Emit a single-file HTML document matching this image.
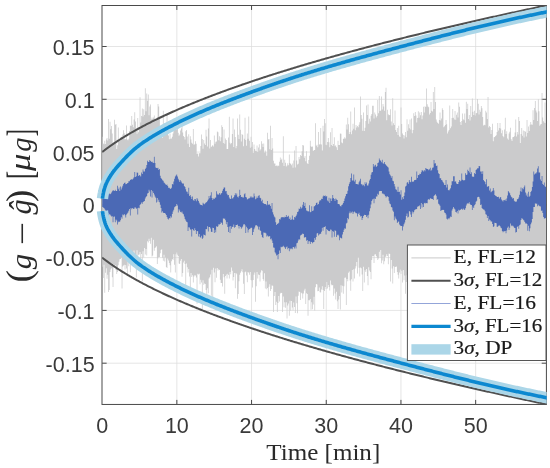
<!DOCTYPE html>
<html><head><meta charset="utf-8"><title>plot</title>
<style>html,body{margin:0;padding:0;background:#fff}svg{display:block}.tk{font-family:"Liberation Sans",sans-serif;font-size:21.5px;fill:#3a3a3a}.sf{font-family:"Liberation Serif",serif;fill:#2a2a2a}</style></head><body>
<svg width="550" height="468" viewBox="0 0 550 468">
<rect width="550" height="468" fill="#fff"/>
<defs><clipPath id="ax"><rect x="102.15" y="5.45" width="444.05" height="398.95"/></clipPath>
<clipPath id="axl"><rect x="80" y="5.05" width="466.70" height="399.85"/></clipPath></defs>
<g stroke="#dcdcdc" stroke-width="0.75" fill="none">
<line x1="176.85" y1="5.45" x2="176.85" y2="404.40"/>
<line x1="251.55" y1="5.45" x2="251.55" y2="404.40"/>
<line x1="326.25" y1="5.45" x2="326.25" y2="404.40"/>
<line x1="400.95" y1="5.45" x2="400.95" y2="404.40"/>
<line x1="475.65" y1="5.45" x2="475.65" y2="404.40"/>
<line x1="102.15" y1="363.19" x2="546.20" y2="363.19"/>
<line x1="102.15" y1="310.41" x2="546.20" y2="310.41"/>
<line x1="102.15" y1="257.63" x2="546.20" y2="257.63"/>
<line x1="102.15" y1="204.85" x2="546.20" y2="204.85"/>
<line x1="102.15" y1="152.07" x2="546.20" y2="152.07"/>
<line x1="102.15" y1="99.29" x2="546.20" y2="99.29"/>
<line x1="102.15" y1="46.51" x2="546.20" y2="46.51"/>
</g>
<g stroke="#4a4a4a" stroke-width="1" fill="none">
<rect x="102.00" y="5.50" width="444.40" height="398.95"/>
<path d="M176.85,404.40 v-4.5 M176.85,5.45 v4.5"/>
<path d="M251.55,404.40 v-4.5 M251.55,5.45 v4.5"/>
<path d="M326.25,404.40 v-4.5 M326.25,5.45 v4.5"/>
<path d="M400.95,404.40 v-4.5 M400.95,5.45 v4.5"/>
<path d="M475.65,404.40 v-4.5 M475.65,5.45 v4.5"/>
<path d="M102.15,363.19 h4.5"/>
<path d="M546.20,363.19 h-4.5"/>
<path d="M102.15,310.41 h4.5"/>
<path d="M546.20,310.41 h-4.5"/>
<path d="M102.15,257.63 h4.5"/>
<path d="M546.20,257.63 h-4.5"/>
<path d="M102.15,204.85 h4.5"/>
<path d="M546.20,204.85 h-4.5"/>
<path d="M102.15,152.07 h4.5"/>
<path d="M546.20,152.07 h-4.5"/>
<path d="M102.15,99.29 h4.5"/>
<path d="M546.20,99.29 h-4.5"/>
<path d="M102.15,46.51 h4.5"/>
<path d="M546.20,46.51 h-4.5"/>
</g>
<g clip-path="url(#ax)">
<polygon fill="#cbcbcc" points="102.15,136.7 102.90,136.7 102.90,143.5 103.65,143.5 103.65,144.3 104.40,144.3 104.40,140.7 105.15,140.7 105.15,144.0 105.90,144.0 105.90,139.6 106.65,139.6 106.65,138.1 107.40,138.1 107.40,140.6 108.15,140.6 108.15,119.1 108.90,119.1 108.90,138.8 109.65,138.8 109.65,121.7 110.40,121.7 110.40,129.2 111.15,129.2 111.15,126.1 111.90,126.1 111.90,133.6 112.65,133.6 112.65,142.7 113.40,142.7 113.40,142.0 114.15,142.0 114.15,119.8 114.90,119.8 114.90,124.8 115.65,124.8 115.65,123.9 116.40,123.9 116.40,149.1 117.15,149.1 117.15,145.2 117.90,145.2 117.90,127.5 118.65,127.5 118.65,140.5 119.40,140.5 119.40,141.1 120.15,141.1 120.15,137.6 120.90,137.6 120.90,136.8 121.65,136.8 121.65,137.1 122.40,137.1 122.40,134.6 123.15,134.6 123.15,130.3 123.90,130.3 123.90,133.2 124.65,133.2 124.65,139.5 125.40,139.5 125.40,138.9 126.15,138.9 126.15,125.6 126.90,125.6 126.90,139.6 127.65,139.6 127.65,140.2 128.40,140.2 128.40,138.7 129.15,138.7 129.15,131.0 129.90,131.0 129.90,125.5 130.65,125.5 130.65,125.9 131.40,125.9 131.40,116.0 132.15,116.0 132.15,124.7 132.90,124.7 132.90,127.3 133.65,127.3 133.65,119.6 134.40,119.6 134.40,112.2 135.15,112.2 135.15,121.6 135.90,121.6 135.90,128.4 136.65,128.4 136.65,133.7 137.40,133.7 137.40,118.0 138.15,118.0 138.15,132.3 138.90,132.3 138.90,128.1 139.65,128.1 139.65,97.2 140.40,97.2 140.40,122.6 141.15,122.6 141.15,116.1 141.90,116.1 141.90,108.4 142.65,108.4 142.65,116.4 143.40,116.4 143.40,109.2 144.15,109.2 144.15,114.9 144.90,114.9 144.90,88.3 145.65,88.3 145.65,111.3 146.40,111.3 146.40,93.5 147.15,93.5 147.15,100.7 147.90,100.7 147.90,94.4 148.65,94.4 148.65,115.2 149.40,115.2 149.40,106.5 150.15,106.5 150.15,104.6 150.90,104.6 150.90,119.4 151.65,119.4 151.65,117.6 152.40,117.6 152.40,119.0 153.15,119.0 153.15,117.4 153.90,117.4 153.90,115.6 154.65,115.6 154.65,119.8 155.40,119.8 155.40,119.8 156.15,119.8 156.15,118.7 156.90,118.7 156.90,116.9 157.65,116.9 157.65,103.9 158.40,103.9 158.40,106.6 159.15,106.6 159.15,117.8 159.90,117.8 159.90,127.4 160.65,127.4 160.65,126.2 161.40,126.2 161.40,127.2 162.15,127.2 162.15,137.7 162.90,137.7 162.90,110.7 163.65,110.7 163.65,131.5 164.40,131.5 164.40,127.3 165.15,127.3 165.15,127.1 165.90,127.1 165.90,132.5 166.65,132.5 166.65,114.0 167.40,114.0 167.40,132.1 168.15,132.1 168.15,135.6 168.90,135.6 168.90,139.3 169.65,139.3 169.65,133.6 170.40,133.6 170.40,138.7 171.15,138.7 171.15,138.4 171.90,138.4 171.90,136.8 172.65,136.8 172.65,133.5 173.40,133.5 173.40,130.4 174.15,130.4 174.15,119.7 174.90,119.7 174.90,129.2 175.65,129.2 175.65,129.9 176.40,129.9 176.40,129.4 177.15,129.4 177.15,123.3 177.90,123.3 177.90,132.7 178.65,132.7 178.65,135.7 179.40,135.7 179.40,134.4 180.15,134.4 180.15,130.4 180.90,130.4 180.90,128.5 181.65,128.5 181.65,125.3 182.40,125.3 182.40,132.4 183.15,132.4 183.15,135.9 183.90,135.9 183.90,136.9 184.65,136.9 184.65,139.4 185.40,139.4 185.40,131.2 186.15,131.2 186.15,129.9 186.90,129.9 186.90,136.5 187.65,136.5 187.65,143.7 188.40,143.7 188.40,134.3 189.15,134.3 189.15,147.0 189.90,147.0 189.90,136.2 190.65,136.2 190.65,139.4 191.40,139.4 191.40,142.7 192.15,142.7 192.15,143.7 192.90,143.7 192.90,128.9 193.65,128.9 193.65,144.8 194.40,144.8 194.40,144.3 195.15,144.3 195.15,141.2 195.90,141.2 195.90,143.7 196.65,143.7 196.65,153.7 197.40,153.7 197.40,153.5 198.15,153.5 198.15,156.4 198.90,156.4 198.90,153.2 199.65,153.2 199.65,153.2 200.40,153.2 200.40,146.0 201.15,146.0 201.15,134.5 201.90,134.5 201.90,139.0 202.65,139.0 202.65,148.7 203.40,148.7 203.40,140.1 204.15,140.1 204.15,143.6 204.90,143.6 204.90,145.0 205.65,145.0 205.65,129.8 206.40,129.8 206.40,136.5 207.15,136.5 207.15,146.4 207.90,146.4 207.90,128.6 208.65,128.6 208.65,118.6 209.40,118.6 209.40,148.5 210.15,148.5 210.15,139.9 210.90,139.9 210.90,147.0 211.65,147.0 211.65,146.1 212.40,146.1 212.40,145.1 213.15,145.1 213.15,146.4 213.90,146.4 213.90,135.4 214.65,135.4 214.65,143.8 215.40,143.8 215.40,141.8 216.15,141.8 216.15,141.5 216.90,141.5 216.90,131.5 217.65,131.5 217.65,132.3 218.40,132.3 218.40,140.3 219.15,140.3 219.15,136.2 219.90,136.2 219.90,141.3 220.65,141.3 220.65,137.2 221.40,137.2 221.40,125.3 222.15,125.3 222.15,127.0 222.90,127.0 222.90,143.0 223.65,143.0 223.65,129.4 224.40,129.4 224.40,143.8 225.15,143.8 225.15,138.4 225.90,138.4 225.90,139.9 226.65,139.9 226.65,149.0 227.40,149.0 227.40,148.9 228.15,148.9 228.15,137.4 228.90,137.4 228.90,116.7 229.65,116.7 229.65,142.8 230.40,142.8 230.40,144.2 231.15,144.2 231.15,143.0 231.90,143.0 231.90,134.0 232.65,134.0 232.65,118.5 233.40,118.5 233.40,147.1 234.15,147.1 234.15,129.4 234.90,129.4 234.90,136.9 235.65,136.9 235.65,148.3 236.40,148.3 236.40,145.9 237.15,145.9 237.15,118.5 237.90,118.5 237.90,134.8 238.65,134.8 238.65,138.9 239.40,138.9 239.40,114.5 240.15,114.5 240.15,129.7 240.90,129.7 240.90,141.4 241.65,141.4 241.65,134.1 242.40,134.1 242.40,134.9 243.15,134.9 243.15,146.2 243.90,146.2 243.90,138.8 244.65,138.8 244.65,117.8 245.40,117.8 245.40,140.0 246.15,140.0 246.15,145.7 246.90,145.7 246.90,133.6 247.65,133.6 247.65,138.8 248.40,138.8 248.40,116.5 249.15,116.5 249.15,140.8 249.90,140.8 249.90,147.7 250.65,147.7 250.65,136.8 251.40,136.8 251.40,146.8 252.15,146.8 252.15,141.9 252.90,141.9 252.90,153.0 253.65,153.0 253.65,144.4 254.40,144.4 254.40,149.1 255.15,149.1 255.15,150.8 255.90,150.8 255.90,151.2 256.65,151.2 256.65,145.6 257.40,145.6 257.40,151.9 258.15,151.9 258.15,147.4 258.90,147.4 258.90,144.2 259.65,144.2 259.65,150.5 260.40,150.5 260.40,149.2 261.15,149.2 261.15,141.2 261.90,141.2 261.90,143.7 262.65,143.7 262.65,147.0 263.40,147.0 263.40,143.6 264.15,143.6 264.15,152.6 264.90,152.6 264.90,150.4 265.65,150.4 265.65,152.2 266.40,152.2 266.40,155.8 267.15,155.8 267.15,132.7 267.90,132.7 267.90,139.6 268.65,139.6 268.65,138.9 269.40,138.9 269.40,149.3 270.15,149.3 270.15,125.7 270.90,125.7 270.90,150.1 271.65,150.1 271.65,137.9 272.40,137.9 272.40,148.5 273.15,148.5 273.15,160.8 273.90,160.8 273.90,163.4 274.65,163.4 274.65,163.4 275.40,163.4 275.40,166.0 276.15,166.0 276.15,165.4 276.90,165.4 276.90,166.3 277.65,166.3 277.65,165.2 278.40,165.2 278.40,166.1 279.15,166.1 279.15,161.7 279.90,161.7 279.90,157.5 280.65,157.5 280.65,160.0 281.40,160.0 281.40,158.7 282.15,158.7 282.15,162.8 282.90,162.8 282.90,136.3 283.65,136.3 283.65,166.1 284.40,166.1 284.40,159.7 285.15,159.7 285.15,162.8 285.90,162.8 285.90,166.4 286.65,166.4 286.65,165.4 287.40,165.4 287.40,163.3 288.15,163.3 288.15,165.3 288.90,165.3 288.90,154.5 289.65,154.5 289.65,163.1 290.40,163.1 290.40,164.1 291.15,164.1 291.15,165.3 291.90,165.3 291.90,163.5 292.65,163.5 292.65,167.8 293.40,167.8 293.40,160.5 294.15,160.5 294.15,150.5 294.90,150.5 294.90,167.5 295.65,167.5 295.65,145.9 296.40,145.9 296.40,160.6 297.15,160.6 297.15,164.4 297.90,164.4 297.90,163.7 298.65,163.7 298.65,157.0 299.40,157.0 299.40,159.3 300.15,159.3 300.15,155.0 300.90,155.0 300.90,156.1 301.65,156.1 301.65,151.3 302.40,151.3 302.40,145.0 303.15,145.0 303.15,145.5 303.90,145.5 303.90,157.8 304.65,157.8 304.65,155.9 305.40,155.9 305.40,161.2 306.15,161.2 306.15,151.2 306.90,151.2 306.90,163.2 307.65,163.2 307.65,163.9 308.40,163.9 308.40,159.9 309.15,159.9 309.15,155.7 309.90,155.7 309.90,140.8 310.65,140.8 310.65,146.2 311.40,146.2 311.40,147.0 312.15,147.0 312.15,146.4 312.90,146.4 312.90,151.0 313.65,151.0 313.65,150.0 314.40,150.0 314.40,150.0 315.15,150.0 315.15,123.2 315.90,123.2 315.90,145.8 316.65,145.8 316.65,144.8 317.40,144.8 317.40,147.3 318.15,147.3 318.15,131.9 318.90,131.9 318.90,144.4 319.65,144.4 319.65,144.3 320.40,144.3 320.40,128.0 321.15,128.0 321.15,144.4 321.90,144.4 321.90,150.5 322.65,150.5 322.65,125.7 323.40,125.7 323.40,131.5 324.15,131.5 324.15,119.1 324.90,119.1 324.90,123.3 325.65,123.3 325.65,144.8 326.40,144.8 326.40,145.2 327.15,145.2 327.15,142.1 327.90,142.1 327.90,137.9 328.65,137.9 328.65,142.3 329.40,142.3 329.40,147.2 330.15,147.2 330.15,132.2 330.90,132.2 330.90,145.0 331.65,145.0 331.65,127.9 332.40,127.9 332.40,145.9 333.15,145.9 333.15,143.9 333.90,143.9 333.90,137.3 334.65,137.3 334.65,146.3 335.40,146.3 335.40,145.3 336.15,145.3 336.15,147.3 336.90,147.3 336.90,149.9 337.65,149.9 337.65,140.8 338.40,140.8 338.40,145.0 339.15,145.0 339.15,145.0 339.90,145.0 339.90,133.4 340.65,133.4 340.65,133.8 341.40,133.8 341.40,142.5 342.15,142.5 342.15,143.2 342.90,143.2 342.90,138.8 343.65,138.8 343.65,138.7 344.40,138.7 344.40,137.3 345.15,137.3 345.15,138.4 345.90,138.4 345.90,124.5 346.65,124.5 346.65,129.5 347.40,129.5 347.40,117.7 348.15,117.7 348.15,124.2 348.90,124.2 348.90,134.0 349.65,134.0 349.65,132.0 350.40,132.0 350.40,111.5 351.15,111.5 351.15,134.3 351.90,134.3 351.90,130.6 352.65,130.6 352.65,123.7 353.40,123.7 353.40,128.8 354.15,128.8 354.15,107.4 354.90,107.4 354.90,130.2 355.65,130.2 355.65,125.1 356.40,125.1 356.40,127.5 357.15,127.5 357.15,126.0 357.90,126.0 357.90,127.3 358.65,127.3 358.65,124.8 359.40,124.8 359.40,122.2 360.15,122.2 360.15,96.6 360.90,96.6 360.90,115.0 361.65,115.0 361.65,118.7 362.40,118.7 362.40,130.7 363.15,130.7 363.15,112.4 363.90,112.4 363.90,130.9 364.65,130.9 364.65,127.7 365.40,127.7 365.40,121.1 366.15,121.1 366.15,105.6 366.90,105.6 366.90,114.9 367.65,114.9 367.65,104.5 368.40,104.5 368.40,123.7 369.15,123.7 369.15,118.8 369.90,118.8 369.90,121.6 370.65,121.6 370.65,115.8 371.40,115.8 371.40,113.9 372.15,113.9 372.15,105.8 372.90,105.8 372.90,105.8 373.65,105.8 373.65,118.5 374.40,118.5 374.40,112.4 375.15,112.4 375.15,114.6 375.90,114.6 375.90,117.5 376.65,117.5 376.65,115.9 377.40,115.9 377.40,100.1 378.15,100.1 378.15,113.2 378.90,113.2 378.90,96.0 379.65,96.0 379.65,110.9 380.40,110.9 380.40,110.6 381.15,110.6 381.15,96.5 381.90,96.5 381.90,109.5 382.65,109.5 382.65,103.9 383.40,103.9 383.40,106.5 384.15,106.5 384.15,110.7 384.90,110.7 384.90,92.1 385.65,92.1 385.65,87.7 386.40,87.7 386.40,120.2 387.15,120.2 387.15,109.8 387.90,109.8 387.90,114.2 388.65,114.2 388.65,115.3 389.40,115.3 389.40,114.9 390.15,114.9 390.15,109.2 390.90,109.2 390.90,121.6 391.65,121.6 391.65,125.6 392.40,125.6 392.40,98.3 393.15,98.3 393.15,123.2 393.90,123.2 393.90,125.0 394.65,125.0 394.65,110.5 395.40,110.5 395.40,129.9 396.15,129.9 396.15,132.1 396.90,132.1 396.90,127.9 397.65,127.9 397.65,135.0 398.40,135.0 398.40,125.8 399.15,125.8 399.15,136.6 399.90,136.6 399.90,136.9 400.65,136.9 400.65,107.5 401.40,107.5 401.40,124.0 402.15,124.0 402.15,133.5 402.90,133.5 402.90,134.9 403.65,134.9 403.65,138.5 404.40,138.5 404.40,135.4 405.15,135.4 405.15,131.9 405.90,131.9 405.90,137.3 406.65,137.3 406.65,119.2 407.40,119.2 407.40,130.8 408.15,130.8 408.15,124.2 408.90,124.2 408.90,128.2 409.65,128.2 409.65,119.4 410.40,119.4 410.40,129.4 411.15,129.4 411.15,118.5 411.90,118.5 411.90,133.3 412.65,133.3 412.65,130.1 413.40,130.1 413.40,113.3 414.15,113.3 414.15,115.9 414.90,115.9 414.90,112.0 415.65,112.0 415.65,115.5 416.40,115.5 416.40,122.6 417.15,122.6 417.15,117.9 417.90,117.9 417.90,111.2 418.65,111.2 418.65,117.8 419.40,117.8 419.40,112.6 420.15,112.6 420.15,115.3 420.90,115.3 420.90,111.9 421.65,111.9 421.65,119.3 422.40,119.3 422.40,115.5 423.15,115.5 423.15,106.7 423.90,106.7 423.90,112.5 424.65,112.5 424.65,106.3 425.40,106.3 425.40,107.1 426.15,107.1 426.15,88.6 426.90,88.6 426.90,104.3 427.65,104.3 427.65,106.6 428.40,106.6 428.40,107.2 429.15,107.2 429.15,114.6 429.90,114.6 429.90,113.1 430.65,113.1 430.65,102.0 431.40,102.0 431.40,110.7 432.15,110.7 432.15,111.5 432.90,111.5 432.90,92.0 433.65,92.0 433.65,109.1 434.40,109.1 434.40,87.0 435.15,87.0 435.15,102.0 435.90,102.0 435.90,119.5 436.65,119.5 436.65,121.8 437.40,121.8 437.40,123.1 438.15,123.1 438.15,123.8 438.90,123.8 438.90,120.1 439.65,120.1 439.65,112.4 440.40,112.4 440.40,120.4 441.15,120.4 441.15,118.5 441.90,118.5 441.90,108.2 442.65,108.2 442.65,110.0 443.40,110.0 443.40,127.3 444.15,127.3 444.15,126.2 444.90,126.2 444.90,124.9 445.65,124.9 445.65,120.0 446.40,120.0 446.40,124.3 447.15,124.3 447.15,133.4 447.90,133.4 447.90,131.4 448.65,131.4 448.65,130.1 449.40,130.1 449.40,105.6 450.15,105.6 450.15,128.2 450.90,128.2 450.90,126.5 451.65,126.5 451.65,118.0 452.40,118.0 452.40,109.1 453.15,109.1 453.15,117.7 453.90,117.7 453.90,119.5 454.65,119.5 454.65,111.1 455.40,111.1 455.40,119.7 456.15,119.7 456.15,114.8 456.90,114.8 456.90,112.6 457.65,112.6 457.65,117.5 458.40,117.5 458.40,102.5 459.15,102.5 459.15,106.8 459.90,106.8 459.90,121.9 460.65,121.9 460.65,125.0 461.40,125.0 461.40,121.1 462.15,121.1 462.15,113.6 462.90,113.6 462.90,119.2 463.65,119.2 463.65,120.3 464.40,120.3 464.40,113.5 465.15,113.5 465.15,122.7 465.90,122.7 465.90,101.8 466.65,101.8 466.65,108.9 467.40,108.9 467.40,103.7 468.15,103.7 468.15,119.1 468.90,119.1 468.90,114.9 469.65,114.9 469.65,120.4 470.40,120.4 470.40,106.1 471.15,106.1 471.15,116.9 471.90,116.9 471.90,98.5 472.65,98.5 472.65,111.8 473.40,111.8 473.40,114.9 474.15,114.9 474.15,110.7 474.90,110.7 474.90,115.6 475.65,115.6 475.65,113.2 476.40,113.2 476.40,113.1 477.15,113.1 477.15,99.0 477.90,99.0 477.90,103.8 478.65,103.8 478.65,114.4 479.40,114.4 479.40,109.8 480.15,109.8 480.15,111.7 480.90,111.7 480.90,106.0 481.65,106.0 481.65,108.2 482.40,108.2 482.40,116.9 483.15,116.9 483.15,125.6 483.90,125.6 483.90,124.8 484.65,124.8 484.65,125.2 485.40,125.2 485.40,110.7 486.15,110.7 486.15,112.6 486.90,112.6 486.90,119.0 487.65,119.0 487.65,97.1 488.40,97.1 488.40,127.6 489.15,127.6 489.15,126.0 489.90,126.0 489.90,127.0 490.65,127.0 490.65,133.9 491.40,133.9 491.40,129.9 492.15,129.9 492.15,123.8 492.90,123.8 492.90,141.2 493.65,141.2 493.65,137.3 494.40,137.3 494.40,136.9 495.15,136.9 495.15,136.1 495.90,136.1 495.90,135.2 496.65,135.2 496.65,131.9 497.40,131.9 497.40,122.9 498.15,122.9 498.15,130.5 498.90,130.5 498.90,128.1 499.65,128.1 499.65,123.1 500.40,123.1 500.40,128.4 501.15,128.4 501.15,133.2 501.90,133.2 501.90,130.2 502.65,130.2 502.65,135.9 503.40,135.9 503.40,137.2 504.15,137.2 504.15,129.5 504.90,129.5 504.90,117.7 505.65,117.7 505.65,134.1 506.40,134.1 506.40,131.2 507.15,131.2 507.15,138.4 507.90,138.4 507.90,139.8 508.65,139.8 508.65,133.5 509.40,133.5 509.40,131.7 510.15,131.7 510.15,127.8 510.90,127.8 510.90,139.2 511.65,139.2 511.65,140.9 512.40,140.9 512.40,137.3 513.15,137.3 513.15,137.1 513.90,137.1 513.90,136.3 514.65,136.3 514.65,132.4 515.40,132.4 515.40,119.5 516.15,119.5 516.15,136.4 516.90,136.4 516.90,132.0 517.65,132.0 517.65,134.4 518.40,134.4 518.40,117.0 519.15,117.0 519.15,120.9 519.90,120.9 519.90,142.9 520.65,142.9 520.65,133.9 521.40,133.9 521.40,128.0 522.15,128.0 522.15,135.8 522.90,135.8 522.90,130.4 523.65,130.4 523.65,137.5 524.40,137.5 524.40,131.0 525.15,131.0 525.15,131.8 525.90,131.8 525.90,136.5 526.65,136.5 526.65,119.9 527.40,119.9 527.40,133.1 528.15,133.1 528.15,126.6 528.90,126.6 528.90,131.0 529.65,131.0 529.65,124.7 530.40,124.7 530.40,122.0 531.15,122.0 531.15,124.5 531.90,124.5 531.90,124.8 532.65,124.8 532.65,110.2 533.40,110.2 533.40,120.1 534.15,120.1 534.15,108.0 534.90,108.0 534.90,101.1 535.65,101.1 535.65,110.6 536.40,110.6 536.40,112.5 537.15,112.5 537.15,121.0 537.90,121.0 537.90,99.2 538.65,99.2 538.65,111.2 539.40,111.2 539.40,125.7 540.15,125.7 540.15,124.5 540.90,124.5 540.90,124.0 541.65,124.0 541.65,93.0 542.40,93.0 542.40,117.6 543.15,117.6 543.15,121.3 543.90,121.3 543.90,122.8 544.65,122.8 544.65,102.4 545.40,102.4 545.40,123.0 546.15,123.0 546.15,125.9 546.20,125.9 546.20,277.2 546.15,277.2 546.15,270.2 545.40,270.2 545.40,262.2 544.65,262.2 544.65,265.1 543.90,265.1 543.90,271.5 543.15,271.5 543.15,268.5 542.40,268.5 542.40,264.7 541.65,264.7 541.65,291.4 540.90,291.4 540.90,270.1 540.15,270.1 540.15,269.2 539.40,269.2 539.40,274.1 538.65,274.1 538.65,272.8 537.90,272.8 537.90,269.8 537.15,269.8 537.15,295.5 536.40,295.5 536.40,267.7 535.65,267.7 535.65,269.4 534.90,269.4 534.90,275.0 534.15,275.0 534.15,272.3 533.40,272.3 533.40,268.4 532.65,268.4 532.65,277.4 531.90,277.4 531.90,280.0 531.15,280.0 531.15,273.9 530.40,273.9 530.40,275.5 529.65,275.5 529.65,282.5 528.90,282.5 528.90,280.9 528.15,280.9 528.15,287.5 527.40,287.5 527.40,293.4 526.65,293.4 526.65,312.2 525.90,312.2 525.90,291.0 525.15,291.0 525.15,287.4 524.40,287.4 524.40,303.9 523.65,303.9 523.65,300.2 522.90,300.2 522.90,301.2 522.15,301.2 522.15,297.8 521.40,297.8 521.40,294.9 520.65,294.9 520.65,286.2 519.90,286.2 519.90,297.0 519.15,297.0 519.15,292.4 518.40,292.4 518.40,297.1 517.65,297.1 517.65,287.9 516.90,287.9 516.90,283.9 516.15,283.9 516.15,286.1 515.40,286.1 515.40,308.4 514.65,308.4 514.65,290.9 513.90,290.9 513.90,290.5 513.15,290.5 513.15,292.5 512.40,292.5 512.40,289.3 511.65,289.3 511.65,299.2 510.90,299.2 510.90,312.5 510.15,312.5 510.15,287.8 509.40,287.8 509.40,305.7 508.65,305.7 508.65,309.1 507.90,309.1 507.90,291.6 507.15,291.6 507.15,296.6 506.40,296.6 506.40,293.9 505.65,293.9 505.65,295.3 504.90,295.3 504.90,297.7 504.15,297.7 504.15,292.5 503.40,292.5 503.40,295.8 502.65,295.8 502.65,294.4 501.90,294.4 501.90,305.4 501.15,305.4 501.15,296.6 500.40,296.6 500.40,290.8 499.65,290.8 499.65,297.6 498.90,297.6 498.90,286.4 498.15,286.4 498.15,289.6 497.40,289.6 497.40,308.8 496.65,308.8 496.65,311.2 495.90,311.2 495.90,287.1 495.15,287.1 495.15,285.4 494.40,285.4 494.40,286.5 493.65,286.5 493.65,285.6 492.90,285.6 492.90,288.9 492.15,288.9 492.15,285.0 491.40,285.0 491.40,291.7 490.65,291.7 490.65,297.6 489.90,297.6 489.90,276.3 489.15,276.3 489.15,273.6 488.40,273.6 488.40,279.2 487.65,279.2 487.65,279.3 486.90,279.3 486.90,293.7 486.15,293.7 486.15,282.7 485.40,282.7 485.40,273.9 484.65,273.9 484.65,274.4 483.90,274.4 483.90,274.1 483.15,274.1 483.15,274.1 482.40,274.1 482.40,267.0 481.65,267.0 481.65,294.5 480.90,294.5 480.90,274.2 480.15,274.2 480.15,277.0 479.40,277.0 479.40,289.6 478.65,289.6 478.65,264.7 477.90,264.7 477.90,268.2 477.15,268.2 477.15,266.0 476.40,266.0 476.40,268.9 475.65,268.9 475.65,272.3 474.90,272.3 474.90,268.7 474.15,268.7 474.15,266.8 473.40,266.8 473.40,273.1 472.65,273.1 472.65,291.0 471.90,291.0 471.90,265.7 471.15,265.7 471.15,272.5 470.40,272.5 470.40,263.0 469.65,263.0 469.65,265.8 468.90,265.8 468.90,265.5 468.15,265.5 468.15,281.9 467.40,281.9 467.40,263.6 466.65,263.6 466.65,263.8 465.90,263.8 465.90,273.2 465.15,273.2 465.15,288.0 464.40,288.0 464.40,268.7 463.65,268.7 463.65,277.8 462.90,277.8 462.90,266.9 462.15,266.9 462.15,273.8 461.40,273.8 461.40,267.1 460.65,267.1 460.65,265.4 459.90,265.4 459.90,266.2 459.15,266.2 459.15,270.4 458.40,270.4 458.40,265.8 457.65,265.8 457.65,266.4 456.90,266.4 456.90,264.5 456.15,264.5 456.15,283.6 455.40,283.6 455.40,266.8 454.65,266.8 454.65,287.0 453.90,287.0 453.90,271.6 453.15,271.6 453.15,269.2 452.40,269.2 452.40,277.9 451.65,277.9 451.65,287.2 450.90,287.2 450.90,276.5 450.15,276.5 450.15,276.2 449.40,276.2 449.40,287.0 448.65,287.0 448.65,282.5 447.90,282.5 447.90,286.3 447.15,286.3 447.15,284.4 446.40,284.4 446.40,287.8 445.65,287.8 445.65,300.5 444.90,300.5 444.90,278.0 444.15,278.0 444.15,276.9 443.40,276.9 443.40,274.6 442.65,274.6 442.65,274.5 441.90,274.5 441.90,271.2 441.15,271.2 441.15,274.0 440.40,274.0 440.40,273.1 439.65,273.1 439.65,269.6 438.90,269.6 438.90,296.7 438.15,296.7 438.15,270.6 437.40,270.6 437.40,266.9 436.65,266.9 436.65,275.5 435.90,275.5 435.90,271.8 435.15,271.8 435.15,293.9 434.40,293.9 434.40,273.8 433.65,273.8 433.65,267.9 432.90,267.9 432.90,264.0 432.15,264.0 432.15,261.2 431.40,261.2 431.40,265.2 430.65,265.2 430.65,257.4 429.90,257.4 429.90,279.9 429.15,279.9 429.15,276.6 428.40,276.6 428.40,269.9 427.65,269.9 427.65,269.1 426.90,269.1 426.90,263.0 426.15,263.0 426.15,279.5 425.40,279.5 425.40,277.9 424.65,277.9 424.65,263.9 423.90,263.9 423.90,257.4 423.15,257.4 423.15,259.6 422.40,259.6 422.40,286.9 421.65,286.9 421.65,260.4 420.90,260.4 420.90,261.1 420.15,261.1 420.15,265.7 419.40,265.7 419.40,292.5 418.65,292.5 418.65,265.7 417.90,265.7 417.90,293.2 417.15,293.2 417.15,270.6 416.40,270.6 416.40,268.0 415.65,268.0 415.65,271.1 414.90,271.1 414.90,270.6 414.15,270.6 414.15,271.6 413.40,271.6 413.40,259.9 412.65,259.9 412.65,267.4 411.90,267.4 411.90,275.5 411.15,275.5 411.15,268.4 410.40,268.4 410.40,266.4 409.65,266.4 409.65,275.4 408.90,275.4 408.90,274.9 408.15,274.9 408.15,278.9 407.40,278.9 407.40,275.3 406.65,275.3 406.65,282.1 405.90,282.1 405.90,293.8 405.15,293.8 405.15,275.5 404.40,275.5 404.40,280.3 403.65,280.3 403.65,270.0 402.90,270.0 402.90,282.5 402.15,282.5 402.15,270.7 401.40,270.7 401.40,273.9 400.65,273.9 400.65,269.5 399.90,269.5 399.90,272.5 399.15,272.5 399.15,278.5 398.40,278.5 398.40,274.7 397.65,274.7 397.65,272.0 396.90,272.0 396.90,266.6 396.15,266.6 396.15,267.0 395.40,267.0 395.40,266.8 394.65,266.8 394.65,273.0 393.90,273.0 393.90,266.2 393.15,266.2 393.15,283.6 392.40,283.6 392.40,268.4 391.65,268.4 391.65,260.0 390.90,260.0 390.90,281.6 390.15,281.6 390.15,254.1 389.40,254.1 389.40,253.6 388.65,253.6 388.65,264.3 387.90,264.3 387.90,256.1 387.15,256.1 387.15,254.3 386.40,254.3 386.40,256.3 385.65,256.3 385.65,256.9 384.90,256.9 384.90,261.2 384.15,261.2 384.15,264.2 383.40,264.2 383.40,254.8 382.65,254.8 382.65,260.4 381.90,260.4 381.90,263.2 381.15,263.2 381.15,249.9 380.40,249.9 380.40,257.5 379.65,257.5 379.65,251.8 378.90,251.8 378.90,258.6 378.15,258.6 378.15,260.0 377.40,260.0 377.40,257.7 376.65,257.7 376.65,255.9 375.90,255.9 375.90,254.2 375.15,254.2 375.15,254.4 374.40,254.4 374.40,263.0 373.65,263.0 373.65,255.9 372.90,255.9 372.90,256.2 372.15,256.2 372.15,260.1 371.40,260.1 371.40,279.2 370.65,279.2 370.65,272.1 369.90,272.1 369.90,270.6 369.15,270.6 369.15,267.3 368.40,267.3 368.40,285.2 367.65,285.2 367.65,275.9 366.90,275.9 366.90,269.1 366.15,269.1 366.15,272.0 365.40,272.0 365.40,270.3 364.65,270.3 364.65,282.5 363.90,282.5 363.90,266.8 363.15,266.8 363.15,290.9 362.40,290.9 362.40,274.4 361.65,274.4 361.65,268.3 360.90,268.3 360.90,267.5 360.15,267.5 360.15,276.5 359.40,276.5 359.40,267.8 358.65,267.8 358.65,257.6 357.90,257.6 357.90,273.5 357.15,273.5 357.15,261.9 356.40,261.9 356.40,266.3 355.65,266.3 355.65,268.4 354.90,268.4 354.90,278.4 354.15,278.4 354.15,269.3 353.40,269.3 353.40,281.5 352.65,281.5 352.65,269.9 351.90,269.9 351.90,279.3 351.15,279.3 351.15,290.8 350.40,290.8 350.40,280.4 349.65,280.4 349.65,271.6 348.90,271.6 348.90,272.7 348.15,272.7 348.15,281.3 347.40,281.3 347.40,279.0 346.65,279.0 346.65,305.0 345.90,305.0 345.90,277.6 345.15,277.6 345.15,277.7 344.40,277.7 344.40,286.3 343.65,286.3 343.65,293.8 342.90,293.8 342.90,285.7 342.15,285.7 342.15,292.4 341.40,292.4 341.40,285.3 340.65,285.3 340.65,309.5 339.90,309.5 339.90,296.0 339.15,296.0 339.15,299.4 338.40,299.4 338.40,308.9 337.65,308.9 337.65,301.3 336.90,301.3 336.90,291.8 336.15,291.8 336.15,299.4 335.40,299.4 335.40,293.5 334.65,293.5 334.65,288.4 333.90,288.4 333.90,295.7 333.15,295.7 333.15,285.0 332.40,285.0 332.40,285.6 331.65,285.6 331.65,284.5 330.90,284.5 330.90,280.4 330.15,280.4 330.15,290.6 329.40,290.6 329.40,287.1 328.65,287.1 328.65,285.0 327.90,285.0 327.90,288.4 327.15,288.4 327.15,281.9 326.40,281.9 326.40,288.9 325.65,288.9 325.65,286.9 324.90,286.9 324.90,290.9 324.15,290.9 324.15,308.9 323.40,308.9 323.40,290.1 322.65,290.1 322.65,286.2 321.90,286.2 321.90,289.4 321.15,289.4 321.15,292.6 320.40,292.6 320.40,292.3 319.65,292.3 319.65,287.5 318.90,287.5 318.90,290.9 318.15,290.9 318.15,291.2 317.40,291.2 317.40,284.5 316.65,284.5 316.65,283.9 315.90,283.9 315.90,287.2 315.15,287.2 315.15,310.4 314.40,310.4 314.40,296.8 313.65,296.8 313.65,304.4 312.90,304.4 312.90,309.2 312.15,309.2 312.15,302.3 311.40,302.3 311.40,309.8 310.65,309.8 310.65,299.1 309.90,299.1 309.90,300.3 309.15,300.3 309.15,300.2 308.40,300.2 308.40,315.8 307.65,315.8 307.65,294.1 306.90,294.1 306.90,293.3 306.15,293.3 306.15,303.9 305.40,303.9 305.40,288.8 304.65,288.8 304.65,290.5 303.90,290.5 303.90,293.6 303.15,293.6 303.15,298.5 302.40,298.5 302.40,293.5 301.65,293.5 301.65,292.7 300.90,292.7 300.90,299.9 300.15,299.9 300.15,292.1 299.40,292.1 299.40,291.4 298.65,291.4 298.65,295.8 297.90,295.8 297.90,313.2 297.15,313.2 297.15,303.2 296.40,303.2 296.40,296.4 295.65,296.4 295.65,312.9 294.90,312.9 294.90,307.0 294.15,307.0 294.15,302.6 293.40,302.6 293.40,310.6 292.65,310.6 292.65,307.4 291.90,307.4 291.90,301.1 291.15,301.1 291.15,310.7 290.40,310.7 290.40,300.8 289.65,300.8 289.65,315.8 288.90,315.8 288.90,303.4 288.15,303.4 288.15,305.6 287.40,305.6 287.40,318.4 286.65,318.4 286.65,302.3 285.90,302.3 285.90,307.8 285.15,307.8 285.15,302.2 284.40,302.2 284.40,307.2 283.65,307.2 283.65,296.5 282.90,296.5 282.90,312.0 282.15,312.0 282.15,292.9 281.40,292.9 281.40,292.7 280.65,292.7 280.65,293.5 279.90,293.5 279.90,301.4 279.15,301.4 279.15,296.0 278.40,296.0 278.40,302.9 277.65,302.9 277.65,312.0 276.90,312.0 276.90,301.7 276.15,301.7 276.15,304.9 275.40,304.9 275.40,292.1 274.65,292.1 274.65,296.0 273.90,296.0 273.90,312.0 273.15,312.0 273.15,285.8 272.40,285.8 272.40,285.6 271.65,285.6 271.65,288.9 270.90,288.9 270.90,291.0 270.15,291.0 270.15,284.3 269.40,284.3 269.40,286.7 268.65,286.7 268.65,296.5 267.90,296.5 267.90,288.1 267.15,288.1 267.15,289.2 266.40,289.2 266.40,281.6 265.65,281.6 265.65,288.6 264.90,288.6 264.90,273.2 264.15,273.2 264.15,280.8 263.40,280.8 263.40,279.1 262.65,279.1 262.65,270.7 261.90,270.7 261.90,270.3 261.15,270.3 261.15,272.6 260.40,272.6 260.40,281.5 259.65,281.5 259.65,275.0 258.90,275.0 258.90,274.5 258.15,274.5 258.15,278.6 257.40,278.6 257.40,272.0 256.65,272.0 256.65,286.3 255.90,286.3 255.90,301.7 255.15,301.7 255.15,272.5 254.40,272.5 254.40,274.8 253.65,274.8 253.65,280.0 252.90,280.0 252.90,287.5 252.15,287.5 252.15,280.5 251.40,280.5 251.40,280.1 250.65,280.1 250.65,272.1 249.90,272.1 249.90,274.7 249.15,274.7 249.15,272.7 248.40,272.7 248.40,271.9 247.65,271.9 247.65,282.2 246.90,282.2 246.90,275.6 246.15,275.6 246.15,271.6 245.40,271.6 245.40,272.2 244.65,272.2 244.65,294.0 243.90,294.0 243.90,283.8 243.15,283.8 243.15,272.2 242.40,272.2 242.40,269.3 241.65,269.3 241.65,271.2 240.90,271.2 240.90,272.7 240.15,272.7 240.15,274.7 239.40,274.7 239.40,281.2 238.65,281.2 238.65,294.0 237.90,294.0 237.90,298.8 237.15,298.8 237.15,274.3 236.40,274.3 236.40,272.9 235.65,272.9 235.65,288.2 234.90,288.2 234.90,273.1 234.15,273.1 234.15,277.0 233.40,277.0 233.40,280.5 232.65,280.5 232.65,270.8 231.90,270.8 231.90,267.5 231.15,267.5 231.15,274.3 230.40,274.3 230.40,272.0 229.65,272.0 229.65,278.6 228.90,278.6 228.90,275.1 228.15,275.1 228.15,273.7 227.40,273.7 227.40,278.5 226.65,278.5 226.65,274.6 225.90,274.6 225.90,275.9 225.15,275.9 225.15,293.7 224.40,293.7 224.40,277.2 223.65,277.2 223.65,273.9 222.90,273.9 222.90,286.5 222.15,286.5 222.15,283.0 221.40,283.0 221.40,283.0 220.65,283.0 220.65,279.8 219.90,279.8 219.90,270.1 219.15,270.1 219.15,269.2 218.40,269.2 218.40,270.4 217.65,270.4 217.65,268.0 216.90,268.0 216.90,277.8 216.15,277.8 216.15,268.4 215.40,268.4 215.40,282.2 214.65,282.2 214.65,272.4 213.90,272.4 213.90,267.7 213.15,267.7 213.15,298.1 212.40,298.1 212.40,269.8 211.65,269.8 211.65,295.8 210.90,295.8 210.90,274.5 210.15,274.5 210.15,277.3 209.40,277.3 209.40,278.6 208.65,278.6 208.65,293.2 207.90,293.2 207.90,288.3 207.15,288.3 207.15,295.5 206.40,295.5 206.40,290.0 205.65,290.0 205.65,284.0 204.90,284.0 204.90,283.4 204.15,283.4 204.15,284.7 203.40,284.7 203.40,280.2 202.65,280.2 202.65,309.2 201.90,309.2 201.90,282.5 201.15,282.5 201.15,279.7 200.40,279.7 200.40,284.3 199.65,284.3 199.65,273.8 198.90,273.8 198.90,274.4 198.15,274.4 198.15,273.8 197.40,273.8 197.40,303.7 196.65,303.7 196.65,277.6 195.90,277.6 195.90,275.5 195.15,275.5 195.15,275.3 194.40,275.3 194.40,276.5 193.65,276.5 193.65,282.4 192.90,282.4 192.90,275.2 192.15,275.2 192.15,277.0 191.40,277.0 191.40,273.0 190.65,273.0 190.65,298.2 189.90,298.2 189.90,276.6 189.15,276.6 189.15,269.0 188.40,269.0 188.40,272.4 187.65,272.4 187.65,267.3 186.90,267.3 186.90,263.5 186.15,263.5 186.15,287.3 185.40,287.3 185.40,264.1 184.65,264.1 184.65,260.8 183.90,260.8 183.90,262.6 183.15,262.6 183.15,273.0 182.40,273.0 182.40,276.8 181.65,276.8 181.65,259.1 180.90,259.1 180.90,260.7 180.15,260.7 180.15,264.0 179.40,264.0 179.40,263.6 178.65,263.6 178.65,256.0 177.90,256.0 177.90,254.8 177.15,254.8 177.15,252.5 176.40,252.5 176.40,254.3 175.65,254.3 175.65,272.4 174.90,272.4 174.90,264.7 174.15,264.7 174.15,254.3 173.40,254.3 173.40,260.0 172.65,260.0 172.65,259.0 171.90,259.0 171.90,261.2 171.15,261.2 171.15,272.6 170.40,272.6 170.40,265.3 169.65,265.3 169.65,263.1 168.90,263.1 168.90,260.6 168.15,260.6 168.15,258.6 167.40,258.6 167.40,268.0 166.65,268.0 166.65,266.9 165.90,266.9 165.90,257.5 165.15,257.5 165.15,261.6 164.40,261.6 164.40,254.8 163.65,254.8 163.65,260.7 162.90,260.7 162.90,257.8 162.15,257.8 162.15,249.2 161.40,249.2 161.40,249.9 160.65,249.9 160.65,253.2 159.90,253.2 159.90,257.1 159.15,257.1 159.15,256.9 158.40,256.9 158.40,258.3 157.65,258.3 157.65,263.9 156.90,263.9 156.90,246.3 156.15,246.3 156.15,247.3 155.40,247.3 155.40,248.0 154.65,248.0 154.65,250.8 153.90,250.8 153.90,239.8 153.15,239.8 153.15,255.6 152.40,255.6 152.40,256.6 151.65,256.6 151.65,237.8 150.90,237.8 150.90,243.8 150.15,243.8 150.15,241.0 149.40,241.0 149.40,238.7 148.65,238.7 148.65,242.4 147.90,242.4 147.90,241.2 147.15,241.2 147.15,255.4 146.40,255.4 146.40,249.1 145.65,249.1 145.65,254.5 144.90,254.5 144.90,248.1 144.15,248.1 144.15,257.4 143.40,257.4 143.40,251.3 142.65,251.3 142.65,281.2 141.90,281.2 141.90,254.0 141.15,254.0 141.15,263.6 140.40,263.6 140.40,251.9 139.65,251.9 139.65,254.4 138.90,254.4 138.90,254.8 138.15,254.8 138.15,257.3 137.40,257.3 137.40,250.2 136.65,250.2 136.65,277.5 135.90,277.5 135.90,257.2 135.15,257.2 135.15,262.5 134.40,262.5 134.40,250.4 133.65,250.4 133.65,257.8 132.90,257.8 132.90,257.3 132.15,257.3 132.15,252.1 131.40,252.1 131.40,255.3 130.65,255.3 130.65,272.2 129.90,272.2 129.90,258.1 129.15,258.1 129.15,266.2 128.40,266.2 128.40,258.0 127.65,258.0 127.65,274.2 126.90,274.2 126.90,268.5 126.15,268.5 126.15,264.9 125.40,264.9 125.40,269.6 124.65,269.6 124.65,264.8 123.90,264.8 123.90,265.4 123.15,265.4 123.15,266.4 122.40,266.4 122.40,288.4 121.65,288.4 121.65,257.7 120.90,257.7 120.90,259.1 120.15,259.1 120.15,259.2 119.40,259.2 119.40,261.8 118.65,261.8 118.65,265.3 117.90,265.3 117.90,271.9 117.15,271.9 117.15,273.9 116.40,273.9 116.40,270.1 115.65,270.1 115.65,265.3 114.90,265.3 114.90,266.6 114.15,266.6 114.15,264.2 113.40,264.2 113.40,287.1 112.65,287.1 112.65,277.3 111.90,277.3 111.90,268.2 111.15,268.2 111.15,269.4 110.40,269.4 110.40,271.9 109.65,271.9 109.65,290.0 108.90,290.0 108.90,292.0 108.15,292.0 108.15,274.8 107.40,274.8 107.40,278.7 106.65,278.7 106.65,268.2 105.90,268.2 105.90,272.7 105.15,272.7 105.15,292.7 104.40,292.7 104.40,264.8 103.65,264.8 103.65,278.1 102.90,278.1 102.90,266.8 102.15,266.8"/>
<path d="M102.15,152.07 L102.23,152.01 L102.30,151.95 L102.38,151.89 L102.45,151.83 L102.53,151.77 L102.60,151.72 L102.68,151.66 L102.75,151.60 L102.83,151.54 L102.90,151.48 L102.98,151.42 L103.05,151.36 L103.13,151.31 L103.20,151.25 L103.28,151.19 L103.35,151.13 L103.43,151.07 L103.50,151.01 L103.58,150.96 L103.65,150.90 L103.73,150.84 L103.80,150.78 L103.88,150.73 L103.95,150.67 L104.03,150.61 L104.10,150.55 L104.18,150.50 L104.25,150.44 L104.33,150.38 L104.40,150.32 L104.48,150.27 L104.55,150.21 L104.63,150.15 L104.70,150.09 L104.78,150.04 L104.85,149.98 L104.93,149.92 L105.00,149.87 L105.08,149.81 L105.15,149.75 L105.23,149.70 L105.30,149.64 L105.38,149.58 L105.45,149.53 L105.53,149.47 L105.60,149.41 L105.68,149.36 L105.75,149.30 L105.83,149.24 L105.90,149.19 L105.98,149.13 L106.05,149.08 L106.13,149.02 L106.20,148.96 L106.28,148.91 L106.35,148.85 L106.43,148.80 L106.50,148.74 L106.58,148.69 L106.65,148.63 L106.73,148.57 L106.80,148.52 L106.88,148.46 L106.95,148.41 L107.03,148.35 L107.10,148.30 L107.18,148.24 L107.26,148.19 L107.33,148.13 L107.41,148.08 L107.48,148.02 L107.56,147.97 L107.63,147.91 L107.71,147.86 L107.78,147.80 L107.86,147.75 L107.93,147.69 L108.01,147.64 L108.08,147.58 L108.16,147.53 L108.23,147.47 L108.31,147.42 L108.38,147.37 L108.46,147.31 L108.53,147.26 L108.61,147.20 L108.68,147.15 L108.76,147.10 L108.83,147.04 L108.91,146.99 L108.98,146.93 L109.06,146.88 L109.13,146.83 L109.21,146.77 L109.28,146.72 L109.36,146.66 L109.43,146.61 L109.51,146.56 L109.58,146.50 L109.66,146.45 L109.73,146.40 L109.81,146.34 L109.88,146.29 L109.96,146.24 L110.03,146.18 L110.11,146.13 L110.18,146.08 L110.26,146.02 L110.33,145.97 L110.41,145.92 L110.48,145.86 L110.56,145.81 L110.63,145.76 L110.71,145.71 L110.78,145.65 L110.86,145.60 L110.93,145.55 L111.01,145.49 L111.08,145.44 L111.16,145.39 L111.23,145.34 L111.31,145.28 L111.38,145.23 L111.46,145.18 L111.53,145.13 L111.61,145.07 L111.68,145.02 L111.76,144.97 L111.83,144.92 L111.91,144.87 L111.98,144.81 L112.06,144.76 L112.14,144.71 L112.21,144.66 L112.29,144.61 L112.36,144.55 L112.44,144.50 L112.51,144.45 L112.59,144.40 L112.66,144.35 L112.74,144.30 L112.81,144.24 L112.89,144.19 L112.96,144.14 L113.04,144.09 L113.11,144.04 L113.19,143.99 L113.26,143.94 L113.34,143.88 L113.41,143.83 L113.49,143.78 L113.56,143.73 L113.64,143.68 L113.71,143.63 L113.79,143.58 L113.86,143.53 L113.94,143.48 L114.01,143.42 L114.09,143.37 L114.16,143.32 L114.24,143.27 L114.31,143.22 L114.39,143.17 L114.46,143.12 L114.54,143.07 L114.61,143.02 L114.69,142.97 L114.76,142.92 L114.84,142.87 L114.91,142.82 L114.99,142.77 L115.06,142.72 L115.14,142.67 L115.21,142.62 L115.29,142.57 L115.36,142.52 L115.44,142.47 L115.51,142.42 L115.59,142.37 L115.66,142.32 L115.74,142.27 L115.81,142.22 L115.89,142.17 L115.96,142.12 L116.04,142.07 L116.11,142.02 L116.19,141.97 L116.26,141.92 L116.34,141.87 L116.41,141.82 L116.49,141.77 L116.56,141.72 L116.64,141.67 L116.71,141.62 L116.79,141.57 L116.86,141.52 L116.94,141.47 L117.01,141.42 L117.09,141.37 L118.17,140.67 L119.25,139.97 L120.33,139.28 L121.41,138.60 L122.50,137.92 L123.58,137.25 L124.66,136.59 L125.74,135.94 L126.82,135.29 L127.90,134.64 L128.98,134.00 L130.06,133.37 L131.14,132.75 L132.23,132.12 L133.31,131.51 L134.39,130.90 L135.47,130.29 L136.55,129.69 L137.63,129.09 L138.71,128.50 L139.79,127.92 L140.87,127.33 L141.95,126.75 L143.04,126.18 L144.12,125.61 L145.20,125.04 L146.28,124.48 L147.36,123.92 L148.44,123.37 L149.52,122.82 L150.60,122.27 L151.68,121.73 L152.77,121.19 L153.85,120.66 L154.93,120.12 L156.01,119.59 L157.09,119.07 L158.17,118.54 L159.25,118.02 L160.33,117.51 L161.41,116.99 L162.50,116.48 L163.58,115.98 L164.66,115.47 L165.74,114.97 L166.82,114.47 L167.90,113.97 L168.98,113.48 L170.06,112.99 L171.14,112.50 L172.23,112.01 L173.31,111.53 L174.39,111.05 L175.47,110.57 L176.55,110.10 L177.63,109.62 L178.71,109.15 L179.79,108.68 L180.87,108.21 L181.95,107.75 L183.04,107.29 L184.12,106.83 L185.20,106.37 L186.28,105.91 L187.36,105.46 L188.44,105.01 L189.52,104.56 L190.60,104.11 L191.68,103.67 L192.77,103.22 L193.85,102.78 L194.93,102.34 L196.01,101.90 L197.09,101.47 L198.17,101.03 L199.25,100.60 L200.33,100.17 L201.41,99.74 L202.50,99.31 L203.58,98.89 L204.66,98.46 L205.74,98.04 L206.82,97.62 L207.90,97.20 L208.98,96.79 L210.06,96.37 L211.14,95.96 L212.23,95.54 L213.31,95.13 L214.39,94.72 L215.47,94.32 L216.55,93.91 L217.63,93.50 L218.71,93.10 L219.79,92.70 L220.87,92.30 L221.95,91.90 L223.04,91.50 L224.12,91.11 L225.20,90.71 L226.28,90.32 L227.36,89.93 L228.44,89.53 L229.52,89.14 L230.60,88.76 L231.68,88.37 L232.77,87.98 L233.85,87.60 L234.93,87.22 L236.01,86.83 L237.09,86.45 L238.17,86.07 L239.25,85.70 L240.33,85.32 L241.41,84.94 L242.50,84.57 L243.58,84.20 L244.66,83.82 L245.74,83.45 L246.82,83.08 L247.90,82.71 L248.98,82.35 L250.06,81.98 L251.14,81.61 L252.23,81.25 L253.31,80.88 L254.39,80.52 L255.47,80.16 L256.55,79.80 L257.63,79.44 L258.71,79.08 L259.79,78.73 L260.87,78.37 L261.95,78.01 L263.04,77.66 L264.12,77.31 L265.20,76.95 L266.28,76.60 L267.36,76.25 L268.44,75.90 L269.52,75.56 L270.60,75.21 L271.68,74.86 L272.77,74.52 L273.85,74.17 L274.93,73.83 L276.01,73.48 L277.09,73.14 L278.17,72.80 L279.25,72.46 L280.33,72.12 L281.41,71.78 L282.50,71.44 L283.58,71.11 L284.66,70.77 L285.74,70.44 L286.82,70.10 L287.90,69.77 L288.98,69.44 L290.06,69.10 L291.14,68.77 L292.22,68.44 L293.31,68.11 L294.39,67.78 L295.47,67.46 L296.55,67.13 L297.63,66.80 L298.71,66.48 L299.79,66.15 L300.87,65.83 L301.95,65.51 L303.04,65.18 L304.12,64.86 L305.20,64.54 L306.28,64.22 L307.36,63.90 L308.44,63.58 L309.52,63.26 L310.60,62.95 L311.68,62.63 L312.77,62.31 L313.85,62.00 L314.93,61.68 L316.01,61.37 L317.09,61.06 L318.17,60.74 L319.25,60.43 L320.33,60.12 L321.41,59.81 L322.50,59.50 L323.58,59.19 L324.66,58.88 L325.74,58.57 L326.82,58.27 L327.90,57.96 L328.98,57.66 L330.06,57.35 L331.14,57.05 L332.22,56.74 L333.31,56.44 L334.39,56.13 L335.47,55.83 L336.55,55.53 L337.63,55.23 L338.71,54.93 L339.79,54.63 L340.87,54.33 L341.95,54.03 L343.04,53.73 L344.12,53.44 L345.20,53.14 L346.28,52.84 L347.36,52.55 L348.44,52.25 L349.52,51.96 L350.60,51.66 L351.68,51.37 L352.77,51.08 L353.85,50.79 L354.93,50.49 L356.01,50.20 L357.09,49.91 L358.17,49.62 L359.25,49.33 L360.33,49.04 L361.41,48.75 L362.50,48.47 L363.58,48.18 L364.66,47.89 L365.74,47.61 L366.82,47.32 L367.90,47.03 L368.98,46.75 L370.06,46.47 L371.14,46.18 L372.22,45.90 L373.31,45.62 L374.39,45.33 L375.47,45.05 L376.55,44.77 L377.63,44.49 L378.71,44.21 L379.79,43.93 L380.87,43.65 L381.95,43.37 L383.04,43.09 L384.12,42.81 L385.20,42.54 L386.28,42.26 L387.36,41.98 L388.44,41.71 L389.52,41.43 L390.60,41.16 L391.68,40.88 L392.77,40.61 L393.85,40.33 L394.93,40.06 L396.01,39.79 L397.09,39.52 L398.17,39.24 L399.25,38.97 L400.33,38.70 L401.41,38.43 L402.50,38.16 L403.58,37.89 L404.66,37.62 L405.74,37.35 L406.82,37.08 L407.90,36.82 L408.98,36.55 L410.06,36.28 L411.14,36.02 L412.22,35.75 L413.31,35.48 L414.39,35.22 L415.47,34.95 L416.55,34.69 L417.63,34.42 L418.71,34.16 L419.79,33.90 L420.87,33.63 L421.95,33.37 L423.04,33.11 L424.12,32.85 L425.20,32.59 L426.28,32.32 L427.36,32.06 L428.44,31.80 L429.52,31.54 L430.60,31.28 L431.68,31.03 L432.77,30.77 L433.85,30.51 L434.93,30.25 L436.01,29.99 L437.09,29.74 L438.17,29.48 L439.25,29.22 L440.33,28.97 L441.41,28.71 L442.50,28.46 L443.58,28.20 L444.66,27.95 L445.74,27.69 L446.82,27.44 L447.90,27.19 L448.98,26.93 L450.06,26.68 L451.14,26.43 L452.22,26.18 L453.31,25.92 L454.39,25.67 L455.47,25.42 L456.55,25.17 L457.63,24.92 L458.71,24.67 L459.79,24.42 L460.87,24.17 L461.95,23.92 L463.04,23.67 L464.12,23.43 L465.20,23.18 L466.28,22.93 L467.36,22.68 L468.44,22.44 L469.52,22.19 L470.60,21.94 L471.68,21.70 L472.77,21.45 L473.85,21.21 L474.93,20.96 L476.01,20.72 L477.09,20.47 L478.17,20.23 L479.25,19.99 L480.33,19.74 L481.41,19.50 L482.50,19.26 L483.58,19.02 L484.66,18.77 L485.74,18.53 L486.82,18.29 L487.90,18.05 L488.98,17.81 L490.06,17.57 L491.14,17.33 L492.22,17.09 L493.31,16.85 L494.39,16.61 L495.47,16.37 L496.55,16.13 L497.63,15.89 L498.71,15.66 L499.79,15.42 L500.87,15.18 L501.95,14.94 L503.04,14.71 L504.12,14.47 L505.20,14.24 L506.28,14.00 L507.36,13.76 L508.44,13.53 L509.52,13.29 L510.60,13.06 L511.68,12.82 L512.77,12.59 L513.85,12.36 L514.93,12.12 L516.01,11.89 L517.09,11.66 L518.17,11.42 L519.25,11.19 L520.33,10.96 L521.41,10.73 L522.50,10.50 L523.58,10.26 L524.66,10.03 L525.74,9.80 L526.82,9.57 L527.90,9.34 L528.98,9.11 L530.06,8.88 L531.14,8.65 L532.22,8.42 L533.31,8.19 L534.39,7.97 L535.47,7.74 L536.55,7.51 L537.63,7.28 L538.71,7.05 L539.79,6.83 L540.87,6.60 L541.95,6.37 L543.04,6.15 L544.12,5.92 L545.20,5.69 L546.28,5.47 L547.36,5.24 L548.44,5.02" fill="none" stroke="#505050" stroke-width="2.0"/>
<path d="M102.15,257.63 L102.23,257.69 L102.30,257.75 L102.38,257.81 L102.45,257.87 L102.53,257.93 L102.60,257.98 L102.68,258.04 L102.75,258.10 L102.83,258.16 L102.90,258.22 L102.98,258.28 L103.05,258.34 L103.13,258.39 L103.20,258.45 L103.28,258.51 L103.35,258.57 L103.43,258.63 L103.50,258.69 L103.58,258.74 L103.65,258.80 L103.73,258.86 L103.80,258.92 L103.88,258.97 L103.95,259.03 L104.03,259.09 L104.10,259.15 L104.18,259.20 L104.25,259.26 L104.33,259.32 L104.40,259.38 L104.48,259.43 L104.55,259.49 L104.63,259.55 L104.70,259.61 L104.78,259.66 L104.85,259.72 L104.93,259.78 L105.00,259.83 L105.08,259.89 L105.15,259.95 L105.23,260.00 L105.30,260.06 L105.38,260.12 L105.45,260.17 L105.53,260.23 L105.60,260.29 L105.68,260.34 L105.75,260.40 L105.83,260.46 L105.90,260.51 L105.98,260.57 L106.05,260.62 L106.13,260.68 L106.20,260.74 L106.28,260.79 L106.35,260.85 L106.43,260.90 L106.50,260.96 L106.58,261.01 L106.65,261.07 L106.73,261.13 L106.80,261.18 L106.88,261.24 L106.95,261.29 L107.03,261.35 L107.10,261.40 L107.18,261.46 L107.26,261.51 L107.33,261.57 L107.41,261.62 L107.48,261.68 L107.56,261.73 L107.63,261.79 L107.71,261.84 L107.78,261.90 L107.86,261.95 L107.93,262.01 L108.01,262.06 L108.08,262.12 L108.16,262.17 L108.23,262.23 L108.31,262.28 L108.38,262.33 L108.46,262.39 L108.53,262.44 L108.61,262.50 L108.68,262.55 L108.76,262.60 L108.83,262.66 L108.91,262.71 L108.98,262.77 L109.06,262.82 L109.13,262.87 L109.21,262.93 L109.28,262.98 L109.36,263.04 L109.43,263.09 L109.51,263.14 L109.58,263.20 L109.66,263.25 L109.73,263.30 L109.81,263.36 L109.88,263.41 L109.96,263.46 L110.03,263.52 L110.11,263.57 L110.18,263.62 L110.26,263.68 L110.33,263.73 L110.41,263.78 L110.48,263.84 L110.56,263.89 L110.63,263.94 L110.71,263.99 L110.78,264.05 L110.86,264.10 L110.93,264.15 L111.01,264.21 L111.08,264.26 L111.16,264.31 L111.23,264.36 L111.31,264.42 L111.38,264.47 L111.46,264.52 L111.53,264.57 L111.61,264.63 L111.68,264.68 L111.76,264.73 L111.83,264.78 L111.91,264.83 L111.98,264.89 L112.06,264.94 L112.14,264.99 L112.21,265.04 L112.29,265.09 L112.36,265.15 L112.44,265.20 L112.51,265.25 L112.59,265.30 L112.66,265.35 L112.74,265.40 L112.81,265.46 L112.89,265.51 L112.96,265.56 L113.04,265.61 L113.11,265.66 L113.19,265.71 L113.26,265.76 L113.34,265.82 L113.41,265.87 L113.49,265.92 L113.56,265.97 L113.64,266.02 L113.71,266.07 L113.79,266.12 L113.86,266.17 L113.94,266.22 L114.01,266.28 L114.09,266.33 L114.16,266.38 L114.24,266.43 L114.31,266.48 L114.39,266.53 L114.46,266.58 L114.54,266.63 L114.61,266.68 L114.69,266.73 L114.76,266.78 L114.84,266.83 L114.91,266.88 L114.99,266.93 L115.06,266.98 L115.14,267.03 L115.21,267.08 L115.29,267.13 L115.36,267.18 L115.44,267.23 L115.51,267.28 L115.59,267.33 L115.66,267.38 L115.74,267.43 L115.81,267.48 L115.89,267.53 L115.96,267.58 L116.04,267.63 L116.11,267.68 L116.19,267.73 L116.26,267.78 L116.34,267.83 L116.41,267.88 L116.49,267.93 L116.56,267.98 L116.64,268.03 L116.71,268.08 L116.79,268.13 L116.86,268.18 L116.94,268.23 L117.01,268.28 L117.09,268.33 L118.17,269.03 L119.25,269.73 L120.33,270.42 L121.41,271.10 L122.50,271.78 L123.58,272.45 L124.66,273.11 L125.74,273.76 L126.82,274.41 L127.90,275.06 L128.98,275.70 L130.06,276.33 L131.14,276.95 L132.23,277.58 L133.31,278.19 L134.39,278.80 L135.47,279.41 L136.55,280.01 L137.63,280.61 L138.71,281.20 L139.79,281.78 L140.87,282.37 L141.95,282.95 L143.04,283.52 L144.12,284.09 L145.20,284.66 L146.28,285.22 L147.36,285.78 L148.44,286.33 L149.52,286.88 L150.60,287.43 L151.68,287.97 L152.77,288.51 L153.85,289.04 L154.93,289.58 L156.01,290.11 L157.09,290.63 L158.17,291.16 L159.25,291.68 L160.33,292.19 L161.41,292.71 L162.50,293.22 L163.58,293.72 L164.66,294.23 L165.74,294.73 L166.82,295.23 L167.90,295.73 L168.98,296.22 L170.06,296.71 L171.14,297.20 L172.23,297.69 L173.31,298.17 L174.39,298.65 L175.47,299.13 L176.55,299.60 L177.63,300.08 L178.71,300.55 L179.79,301.02 L180.87,301.49 L181.95,301.95 L183.04,302.41 L184.12,302.87 L185.20,303.33 L186.28,303.79 L187.36,304.24 L188.44,304.69 L189.52,305.14 L190.60,305.59 L191.68,306.03 L192.77,306.48 L193.85,306.92 L194.93,307.36 L196.01,307.80 L197.09,308.23 L198.17,308.67 L199.25,309.10 L200.33,309.53 L201.41,309.96 L202.50,310.39 L203.58,310.81 L204.66,311.24 L205.74,311.66 L206.82,312.08 L207.90,312.50 L208.98,312.91 L210.06,313.33 L211.14,313.74 L212.23,314.16 L213.31,314.57 L214.39,314.98 L215.47,315.38 L216.55,315.79 L217.63,316.20 L218.71,316.60 L219.79,317.00 L220.87,317.40 L221.95,317.80 L223.04,318.20 L224.12,318.59 L225.20,318.99 L226.28,319.38 L227.36,319.77 L228.44,320.17 L229.52,320.56 L230.60,320.94 L231.68,321.33 L232.77,321.72 L233.85,322.10 L234.93,322.48 L236.01,322.87 L237.09,323.25 L238.17,323.63 L239.25,324.00 L240.33,324.38 L241.41,324.76 L242.50,325.13 L243.58,325.50 L244.66,325.88 L245.74,326.25 L246.82,326.62 L247.90,326.99 L248.98,327.35 L250.06,327.72 L251.14,328.09 L252.23,328.45 L253.31,328.82 L254.39,329.18 L255.47,329.54 L256.55,329.90 L257.63,330.26 L258.71,330.62 L259.79,330.97 L260.87,331.33 L261.95,331.69 L263.04,332.04 L264.12,332.39 L265.20,332.75 L266.28,333.10 L267.36,333.45 L268.44,333.80 L269.52,334.14 L270.60,334.49 L271.68,334.84 L272.77,335.18 L273.85,335.53 L274.93,335.87 L276.01,336.22 L277.09,336.56 L278.17,336.90 L279.25,337.24 L280.33,337.58 L281.41,337.92 L282.50,338.26 L283.58,338.59 L284.66,338.93 L285.74,339.26 L286.82,339.60 L287.90,339.93 L288.98,340.26 L290.06,340.60 L291.14,340.93 L292.22,341.26 L293.31,341.59 L294.39,341.92 L295.47,342.24 L296.55,342.57 L297.63,342.90 L298.71,343.22 L299.79,343.55 L300.87,343.87 L301.95,344.19 L303.04,344.52 L304.12,344.84 L305.20,345.16 L306.28,345.48 L307.36,345.80 L308.44,346.12 L309.52,346.44 L310.60,346.75 L311.68,347.07 L312.77,347.39 L313.85,347.70 L314.93,348.02 L316.01,348.33 L317.09,348.64 L318.17,348.96 L319.25,349.27 L320.33,349.58 L321.41,349.89 L322.50,350.20 L323.58,350.51 L324.66,350.82 L325.74,351.13 L326.82,351.43 L327.90,351.74 L328.98,352.04 L330.06,352.35 L331.14,352.65 L332.22,352.96 L333.31,353.26 L334.39,353.57 L335.47,353.87 L336.55,354.17 L337.63,354.47 L338.71,354.77 L339.79,355.07 L340.87,355.37 L341.95,355.67 L343.04,355.97 L344.12,356.26 L345.20,356.56 L346.28,356.86 L347.36,357.15 L348.44,357.45 L349.52,357.74 L350.60,358.04 L351.68,358.33 L352.77,358.62 L353.85,358.91 L354.93,359.21 L356.01,359.50 L357.09,359.79 L358.17,360.08 L359.25,360.37 L360.33,360.66 L361.41,360.95 L362.50,361.23 L363.58,361.52 L364.66,361.81 L365.74,362.09 L366.82,362.38 L367.90,362.67 L368.98,362.95 L370.06,363.23 L371.14,363.52 L372.22,363.80 L373.31,364.08 L374.39,364.37 L375.47,364.65 L376.55,364.93 L377.63,365.21 L378.71,365.49 L379.79,365.77 L380.87,366.05 L381.95,366.33 L383.04,366.61 L384.12,366.89 L385.20,367.16 L386.28,367.44 L387.36,367.72 L388.44,367.99 L389.52,368.27 L390.60,368.54 L391.68,368.82 L392.77,369.09 L393.85,369.37 L394.93,369.64 L396.01,369.91 L397.09,370.18 L398.17,370.46 L399.25,370.73 L400.33,371.00 L401.41,371.27 L402.50,371.54 L403.58,371.81 L404.66,372.08 L405.74,372.35 L406.82,372.62 L407.90,372.88 L408.98,373.15 L410.06,373.42 L411.14,373.68 L412.22,373.95 L413.31,374.22 L414.39,374.48 L415.47,374.75 L416.55,375.01 L417.63,375.28 L418.71,375.54 L419.79,375.80 L420.87,376.07 L421.95,376.33 L423.04,376.59 L424.12,376.85 L425.20,377.11 L426.28,377.38 L427.36,377.64 L428.44,377.90 L429.52,378.16 L430.60,378.42 L431.68,378.67 L432.77,378.93 L433.85,379.19 L434.93,379.45 L436.01,379.71 L437.09,379.96 L438.17,380.22 L439.25,380.48 L440.33,380.73 L441.41,380.99 L442.50,381.24 L443.58,381.50 L444.66,381.75 L445.74,382.01 L446.82,382.26 L447.90,382.51 L448.98,382.77 L450.06,383.02 L451.14,383.27 L452.22,383.52 L453.31,383.78 L454.39,384.03 L455.47,384.28 L456.55,384.53 L457.63,384.78 L458.71,385.03 L459.79,385.28 L460.87,385.53 L461.95,385.78 L463.04,386.03 L464.12,386.27 L465.20,386.52 L466.28,386.77 L467.36,387.02 L468.44,387.26 L469.52,387.51 L470.60,387.76 L471.68,388.00 L472.77,388.25 L473.85,388.49 L474.93,388.74 L476.01,388.98 L477.09,389.23 L478.17,389.47 L479.25,389.71 L480.33,389.96 L481.41,390.20 L482.50,390.44 L483.58,390.68 L484.66,390.93 L485.74,391.17 L486.82,391.41 L487.90,391.65 L488.98,391.89 L490.06,392.13 L491.14,392.37 L492.22,392.61 L493.31,392.85 L494.39,393.09 L495.47,393.33 L496.55,393.57 L497.63,393.81 L498.71,394.04 L499.79,394.28 L500.87,394.52 L501.95,394.76 L503.04,394.99 L504.12,395.23 L505.20,395.46 L506.28,395.70 L507.36,395.94 L508.44,396.17 L509.52,396.41 L510.60,396.64 L511.68,396.88 L512.77,397.11 L513.85,397.34 L514.93,397.58 L516.01,397.81 L517.09,398.04 L518.17,398.28 L519.25,398.51 L520.33,398.74 L521.41,398.97 L522.50,399.20 L523.58,399.44 L524.66,399.67 L525.74,399.90 L526.82,400.13 L527.90,400.36 L528.98,400.59 L530.06,400.82 L531.14,401.05 L532.22,401.28 L533.31,401.51 L534.39,401.73 L535.47,401.96 L536.55,402.19 L537.63,402.42 L538.71,402.65 L539.79,402.87 L540.87,403.10 L541.95,403.33 L543.04,403.55 L544.12,403.78 L545.20,404.01 L546.28,404.23 L547.36,404.46 L548.44,404.68" fill="none" stroke="#505050" stroke-width="2.0"/>
<polygon fill="#4b69b5" points="102.15,194.5 102.90,194.5 102.90,194.9 103.65,194.9 103.65,196.5 104.40,196.5 104.40,197.1 105.15,197.1 105.15,196.7 105.90,196.7 105.90,196.3 106.65,196.3 106.65,196.5 107.40,196.5 107.40,195.6 108.15,195.6 108.15,193.7 108.90,193.7 108.90,193.6 109.65,193.6 109.65,194.2 110.40,194.2 110.40,193.7 111.15,193.7 111.15,192.6 111.90,192.6 111.90,191.3 112.65,191.3 112.65,190.3 113.40,190.3 113.40,190.6 114.15,190.6 114.15,191.1 114.90,191.1 114.90,189.7 115.65,189.7 115.65,190.9 116.40,190.9 116.40,190.9 117.15,190.9 117.15,185.7 117.90,185.7 117.90,189.3 118.65,189.3 118.65,187.6 119.40,187.6 119.40,191.0 120.15,191.0 120.15,186.4 120.90,186.4 120.90,189.4 121.65,189.4 121.65,187.6 122.40,187.6 122.40,185.7 123.15,185.7 123.15,184.1 123.90,184.1 123.90,183.0 124.65,183.0 124.65,182.6 125.40,182.6 125.40,184.2 126.15,184.2 126.15,183.9 126.90,183.9 126.90,183.3 127.65,183.3 127.65,183.1 128.40,183.1 128.40,181.2 129.15,181.2 129.15,181.2 129.90,181.2 129.90,179.9 130.65,179.9 130.65,179.6 131.40,179.6 131.40,179.2 132.15,179.2 132.15,179.6 132.90,179.6 132.90,178.4 133.65,178.4 133.65,177.3 134.40,177.3 134.40,172.1 135.15,172.1 135.15,177.0 135.90,177.0 135.90,176.2 136.65,176.2 136.65,172.5 137.40,172.5 137.40,172.8 138.15,172.8 138.15,176.0 138.90,176.0 138.90,175.1 139.65,175.1 139.65,175.6 140.40,175.6 140.40,176.4 141.15,176.4 141.15,172.6 141.90,172.6 141.90,174.0 142.65,174.0 142.65,169.4 143.40,169.4 143.40,171.4 144.15,171.4 144.15,171.4 144.90,171.4 144.90,168.9 145.65,168.9 145.65,167.7 146.40,167.7 146.40,165.1 147.15,165.1 147.15,160.7 147.90,160.7 147.90,161.9 148.65,161.9 148.65,161.8 149.40,161.8 149.40,159.9 150.15,159.9 150.15,161.1 150.90,161.1 150.90,162.0 151.65,162.0 151.65,161.6 152.40,161.6 152.40,162.5 153.15,162.5 153.15,163.0 153.90,163.0 153.90,156.8 154.65,156.8 154.65,163.1 155.40,163.1 155.40,167.5 156.15,167.5 156.15,167.9 156.90,167.9 156.90,168.3 157.65,168.3 157.65,167.8 158.40,167.8 158.40,169.9 159.15,169.9 159.15,169.1 159.90,169.1 159.90,175.8 160.65,175.8 160.65,178.1 161.40,178.1 161.40,178.9 162.15,178.9 162.15,180.2 162.90,180.2 162.90,180.8 163.65,180.8 163.65,182.5 164.40,182.5 164.40,183.3 165.15,183.3 165.15,184.3 165.90,184.3 165.90,185.0 166.65,185.0 166.65,184.4 167.40,184.4 167.40,186.1 168.15,186.1 168.15,187.8 168.90,187.8 168.90,187.8 169.65,187.8 169.65,188.6 170.40,188.6 170.40,189.0 171.15,189.0 171.15,187.7 171.90,187.7 171.90,184.0 172.65,184.0 172.65,184.6 173.40,184.6 173.40,181.6 174.15,181.6 174.15,178.8 174.90,178.8 174.90,176.4 175.65,176.4 175.65,175.6 176.40,175.6 176.40,174.4 177.15,174.4 177.15,176.4 177.90,176.4 177.90,178.7 178.65,178.7 178.65,180.2 179.40,180.2 179.40,182.0 180.15,182.0 180.15,180.3 180.90,180.3 180.90,181.6 181.65,181.6 181.65,183.0 182.40,183.0 182.40,183.8 183.15,183.8 183.15,183.4 183.90,183.4 183.90,186.0 184.65,186.0 184.65,186.9 185.40,186.9 185.40,189.2 186.15,189.2 186.15,191.6 186.90,191.6 186.90,191.7 187.65,191.7 187.65,193.7 188.40,193.7 188.40,187.8 189.15,187.8 189.15,196.0 189.90,196.0 189.90,195.1 190.65,195.1 190.65,196.7 191.40,196.7 191.40,199.0 192.15,199.0 192.15,196.6 192.90,196.6 192.90,199.9 193.65,199.9 193.65,200.9 194.40,200.9 194.40,199.1 195.15,199.1 195.15,199.2 195.90,199.2 195.90,201.3 196.65,201.3 196.65,198.0 197.40,198.0 197.40,199.5 198.15,199.5 198.15,201.1 198.90,201.1 198.90,202.8 199.65,202.8 199.65,204.2 200.40,204.2 200.40,204.9 201.15,204.9 201.15,205.1 201.90,205.1 201.90,205.5 202.65,205.5 202.65,202.7 203.40,202.7 203.40,203.8 204.15,203.8 204.15,204.2 204.90,204.2 204.90,203.3 205.65,203.3 205.65,202.6 206.40,202.6 206.40,202.0 207.15,202.0 207.15,200.8 207.90,200.8 207.90,199.5 208.65,199.5 208.65,196.1 209.40,196.1 209.40,198.2 210.15,198.2 210.15,195.4 210.90,195.4 210.90,192.3 211.65,192.3 211.65,198.0 212.40,198.0 212.40,199.9 213.15,199.9 213.15,198.5 213.90,198.5 213.90,198.9 214.65,198.9 214.65,197.7 215.40,197.7 215.40,197.4 216.15,197.4 216.15,191.3 216.90,191.3 216.90,193.7 217.65,193.7 217.65,195.0 218.40,195.0 218.40,194.2 219.15,194.2 219.15,193.1 219.90,193.1 219.90,194.8 220.65,194.8 220.65,193.4 221.40,193.4 221.40,193.0 222.15,193.0 222.15,190.8 222.90,190.8 222.90,189.0 223.65,189.0 223.65,187.4 224.40,187.4 224.40,187.6 225.15,187.6 225.15,191.2 225.90,191.2 225.90,191.0 226.65,191.0 226.65,193.8 227.40,193.8 227.40,195.3 228.15,195.3 228.15,195.1 228.90,195.1 228.90,197.6 229.65,197.6 229.65,198.8 230.40,198.8 230.40,199.0 231.15,199.0 231.15,195.5 231.90,195.5 231.90,198.4 232.65,198.4 232.65,198.3 233.40,198.3 233.40,197.0 234.15,197.0 234.15,195.3 234.90,195.3 234.90,193.2 235.65,193.2 235.65,195.2 236.40,195.2 236.40,193.6 237.15,193.6 237.15,196.7 237.90,196.7 237.90,197.4 238.65,197.4 238.65,195.9 239.40,195.9 239.40,189.7 240.15,189.7 240.15,194.9 240.90,194.9 240.90,197.1 241.65,197.1 241.65,196.7 242.40,196.7 242.40,197.5 243.15,197.5 243.15,197.6 243.90,197.6 243.90,194.3 244.65,194.3 244.65,193.2 245.40,193.2 245.40,197.1 246.15,197.1 246.15,197.5 246.90,197.5 246.90,199.5 247.65,199.5 247.65,199.1 248.40,199.1 248.40,198.2 249.15,198.2 249.15,198.3 249.90,198.3 249.90,196.5 250.65,196.5 250.65,197.7 251.40,197.7 251.40,196.6 252.15,196.6 252.15,197.6 252.90,197.6 252.90,197.5 253.65,197.5 253.65,193.4 254.40,193.4 254.40,196.3 255.15,196.3 255.15,199.2 255.90,199.2 255.90,198.6 256.65,198.6 256.65,196.6 257.40,196.6 257.40,197.9 258.15,197.9 258.15,195.8 258.90,195.8 258.90,195.2 259.65,195.2 259.65,197.8 260.40,197.8 260.40,198.2 261.15,198.2 261.15,201.2 261.90,201.2 261.90,199.7 262.65,199.7 262.65,203.0 263.40,203.0 263.40,203.5 264.15,203.5 264.15,204.0 264.90,204.0 264.90,203.9 265.65,203.9 265.65,204.3 266.40,204.3 266.40,205.3 267.15,205.3 267.15,201.1 267.90,201.1 267.90,204.7 268.65,204.7 268.65,204.6 269.40,204.6 269.40,204.6 270.15,204.6 270.15,206.1 270.90,206.1 270.90,208.8 271.65,208.8 271.65,203.0 272.40,203.0 272.40,212.2 273.15,212.2 273.15,214.5 273.90,214.5 273.90,216.4 274.65,216.4 274.65,217.6 275.40,217.6 275.40,222.3 276.15,222.3 276.15,224.9 276.90,224.9 276.90,223.9 277.65,223.9 277.65,223.4 278.40,223.4 278.40,222.7 279.15,222.7 279.15,219.0 279.90,219.0 279.90,219.5 280.65,219.5 280.65,217.7 281.40,217.7 281.40,217.0 282.15,217.0 282.15,217.3 282.90,217.3 282.90,217.1 283.65,217.1 283.65,217.7 284.40,217.7 284.40,216.7 285.15,216.7 285.15,217.1 285.90,217.1 285.90,214.9 286.65,214.9 286.65,216.9 287.40,216.9 287.40,216.4 288.15,216.4 288.15,215.8 288.90,215.8 288.90,218.9 289.65,218.9 289.65,217.5 290.40,217.5 290.40,220.0 291.15,220.0 291.15,219.5 291.90,219.5 291.90,215.6 292.65,215.6 292.65,219.2 293.40,219.2 293.40,220.1 294.15,220.1 294.15,217.1 294.90,217.1 294.90,217.5 295.65,217.5 295.65,216.1 296.40,216.1 296.40,214.6 297.15,214.6 297.15,212.1 297.90,212.1 297.90,211.5 298.65,211.5 298.65,208.5 299.40,208.5 299.40,209.1 300.15,209.1 300.15,206.8 300.90,206.8 300.90,208.5 301.65,208.5 301.65,207.5 302.40,207.5 302.40,204.8 303.15,204.8 303.15,201.9 303.90,201.9 303.90,206.1 304.65,206.1 304.65,202.8 305.40,202.8 305.40,208.0 306.15,208.0 306.15,210.6 306.90,210.6 306.90,210.7 307.65,210.7 307.65,211.6 308.40,211.6 308.40,211.2 309.15,211.2 309.15,205.2 309.90,205.2 309.90,212.2 310.65,212.2 310.65,211.7 311.40,211.7 311.40,206.2 312.15,206.2 312.15,210.9 312.90,210.9 312.90,210.4 313.65,210.4 313.65,206.5 314.40,206.5 314.40,205.9 315.15,205.9 315.15,205.0 315.90,205.0 315.90,202.9 316.65,202.9 316.65,202.6 317.40,202.6 317.40,204.8 318.15,204.8 318.15,204.1 318.90,204.1 318.90,201.6 319.65,201.6 319.65,200.1 320.40,200.1 320.40,200.6 321.15,200.6 321.15,198.7 321.90,198.7 321.90,199.1 322.65,199.1 322.65,196.4 323.40,196.4 323.40,195.5 324.15,195.5 324.15,195.9 324.90,195.9 324.90,195.5 325.65,195.5 325.65,196.7 326.40,196.7 326.40,196.1 327.15,196.1 327.15,200.6 327.90,200.6 327.90,201.4 328.65,201.4 328.65,197.8 329.40,197.8 329.40,203.0 330.15,203.0 330.15,198.5 330.90,198.5 330.90,201.0 331.65,201.0 331.65,198.4 332.40,198.4 332.40,194.9 333.15,194.9 333.15,198.0 333.90,198.0 333.90,199.0 334.65,199.0 334.65,201.0 335.40,201.0 335.40,198.4 336.15,198.4 336.15,199.6 336.90,199.6 336.90,200.1 337.65,200.1 337.65,204.1 338.40,204.1 338.40,204.1 339.15,204.1 339.15,204.5 339.90,204.5 339.90,205.9 340.65,205.9 340.65,206.6 341.40,206.6 341.40,205.0 342.15,205.0 342.15,204.4 342.90,204.4 342.90,203.0 343.65,203.0 343.65,201.0 344.40,201.0 344.40,198.4 345.15,198.4 345.15,196.3 345.90,196.3 345.90,194.0 346.65,194.0 346.65,193.8 347.40,193.8 347.40,190.7 348.15,190.7 348.15,186.3 348.90,186.3 348.90,183.8 349.65,183.8 349.65,181.9 350.40,181.9 350.40,178.0 351.15,178.0 351.15,173.6 351.90,173.6 351.90,180.5 352.65,180.5 352.65,180.5 353.40,180.5 353.40,174.6 354.15,174.6 354.15,181.4 354.90,181.4 354.90,179.8 355.65,179.8 355.65,183.9 356.40,183.9 356.40,184.0 357.15,184.0 357.15,184.3 357.90,184.3 357.90,184.4 358.65,184.4 358.65,182.3 359.40,182.3 359.40,180.7 360.15,180.7 360.15,178.8 360.90,178.8 360.90,184.2 361.65,184.2 361.65,184.2 362.40,184.2 362.40,185.4 363.15,185.4 363.15,184.7 363.90,184.7 363.90,186.3 364.65,186.3 364.65,182.3 365.40,182.3 365.40,184.0 366.15,184.0 366.15,182.6 366.90,182.6 366.90,185.4 367.65,185.4 367.65,185.5 368.40,185.5 368.40,183.5 369.15,183.5 369.15,180.6 369.90,180.6 369.90,178.9 370.65,178.9 370.65,174.8 371.40,174.8 371.40,172.4 372.15,172.4 372.15,172.1 372.90,172.1 372.90,164.0 373.65,164.0 373.65,166.8 374.40,166.8 374.40,165.5 375.15,165.5 375.15,164.7 375.90,164.7 375.90,167.0 376.65,167.0 376.65,166.1 377.40,166.1 377.40,163.1 378.15,163.1 378.15,162.6 378.90,162.6 378.90,158.6 379.65,158.6 379.65,160.3 380.40,160.3 380.40,160.8 381.15,160.8 381.15,162.3 381.90,162.3 381.90,159.7 382.65,159.7 382.65,163.3 383.40,163.3 383.40,163.8 384.15,163.8 384.15,162.0 384.90,162.0 384.90,164.0 385.65,164.0 385.65,165.1 386.40,165.1 386.40,166.1 387.15,166.1 387.15,166.8 387.90,166.8 387.90,167.4 388.65,167.4 388.65,171.6 389.40,171.6 389.40,174.3 390.15,174.3 390.15,175.4 390.90,175.4 390.90,177.7 391.65,177.7 391.65,176.1 392.40,176.1 392.40,180.8 393.15,180.8 393.15,181.2 393.90,181.2 393.90,184.1 394.65,184.1 394.65,186.5 395.40,186.5 395.40,189.2 396.15,189.2 396.15,189.8 396.90,189.8 396.90,191.8 397.65,191.8 397.65,186.7 398.40,186.7 398.40,191.9 399.15,191.9 399.15,191.7 399.90,191.7 399.90,194.4 400.65,194.4 400.65,190.3 401.40,190.3 401.40,199.8 402.15,199.8 402.15,197.2 402.90,197.2 402.90,199.1 403.65,199.1 403.65,196.1 404.40,196.1 404.40,192.5 405.15,192.5 405.15,186.4 405.90,186.4 405.90,185.7 406.65,185.7 406.65,182.7 407.40,182.7 407.40,182.0 408.15,182.0 408.15,183.7 408.90,183.7 408.90,179.9 409.65,179.9 409.65,181.7 410.40,181.7 410.40,182.2 411.15,182.2 411.15,176.7 411.90,176.7 411.90,181.4 412.65,181.4 412.65,182.0 413.40,182.0 413.40,181.2 414.15,181.2 414.15,180.1 414.90,180.1 414.90,180.0 415.65,180.0 415.65,179.7 416.40,179.7 416.40,171.5 417.15,171.5 417.15,178.0 417.90,178.0 417.90,175.0 418.65,175.0 418.65,175.2 419.40,175.2 419.40,173.7 420.15,173.7 420.15,174.1 420.90,174.1 420.90,172.3 421.65,172.3 421.65,170.2 422.40,170.2 422.40,170.6 423.15,170.6 423.15,171.4 423.90,171.4 423.90,170.0 424.65,170.0 424.65,171.3 425.40,171.3 425.40,168.0 426.15,168.0 426.15,168.8 426.90,168.8 426.90,169.0 427.65,169.0 427.65,169.2 428.40,169.2 428.40,170.2 429.15,170.2 429.15,169.3 429.90,169.3 429.90,167.7 430.65,167.7 430.65,170.7 431.40,170.7 431.40,169.8 432.15,169.8 432.15,167.7 432.90,167.7 432.90,167.4 433.65,167.4 433.65,160.0 434.40,160.0 434.40,163.6 435.15,163.6 435.15,163.3 435.90,163.3 435.90,166.1 436.65,166.1 436.65,165.5 437.40,165.5 437.40,170.2 438.15,170.2 438.15,173.2 438.90,173.2 438.90,174.0 439.65,174.0 439.65,178.3 440.40,178.3 440.40,178.2 441.15,178.2 441.15,180.1 441.90,180.1 441.90,180.6 442.65,180.6 442.65,181.9 443.40,181.9 443.40,183.3 444.15,183.3 444.15,184.9 444.90,184.9 444.90,184.9 445.65,184.9 445.65,180.1 446.40,180.1 446.40,187.5 447.15,187.5 447.15,184.6 447.90,184.6 447.90,190.1 448.65,190.1 448.65,190.4 449.40,190.4 449.40,189.4 450.15,189.4 450.15,188.2 450.90,188.2 450.90,185.2 451.65,185.2 451.65,181.2 452.40,181.2 452.40,181.2 453.15,181.2 453.15,176.2 453.90,176.2 453.90,176.2 454.65,176.2 454.65,181.8 455.40,181.8 455.40,181.3 456.15,181.3 456.15,183.5 456.90,183.5 456.90,183.9 457.65,183.9 457.65,183.9 458.40,183.9 458.40,182.0 459.15,182.0 459.15,180.0 459.90,180.0 459.90,181.2 460.65,181.2 460.65,180.5 461.40,180.5 461.40,173.5 462.15,173.5 462.15,179.8 462.90,179.8 462.90,180.3 463.65,180.3 463.65,180.6 464.40,180.6 464.40,180.0 465.15,180.0 465.15,173.2 465.90,173.2 465.90,175.1 466.65,175.1 466.65,174.4 467.40,174.4 467.40,169.7 468.15,169.7 468.15,171.0 468.90,171.0 468.90,172.4 469.65,172.4 469.65,167.4 470.40,167.4 470.40,174.0 471.15,174.0 471.15,172.3 471.90,172.3 471.90,176.5 472.65,176.5 472.65,176.8 473.40,176.8 473.40,176.7 474.15,176.7 474.15,173.1 474.90,173.1 474.90,173.9 475.65,173.9 475.65,170.1 476.40,170.1 476.40,169.3 477.15,169.3 477.15,168.2 477.90,168.2 477.90,168.2 478.65,168.2 478.65,165.9 479.40,165.9 479.40,166.3 480.15,166.3 480.15,171.5 480.90,171.5 480.90,171.6 481.65,171.6 481.65,174.0 482.40,174.0 482.40,171.2 483.15,171.2 483.15,180.0 483.90,180.0 483.90,181.0 484.65,181.0 484.65,182.0 485.40,182.0 485.40,184.2 486.15,184.2 486.15,179.3 486.90,179.3 486.90,186.8 487.65,186.8 487.65,186.4 488.40,186.4 488.40,186.1 489.15,186.1 489.15,190.4 489.90,190.4 489.90,188.6 490.65,188.6 490.65,192.3 491.40,192.3 491.40,191.4 492.15,191.4 492.15,190.8 492.90,190.8 492.90,187.9 493.65,187.9 493.65,190.5 494.40,190.5 494.40,195.0 495.15,195.0 495.15,195.8 495.90,195.8 495.90,196.1 496.65,196.1 496.65,196.9 497.40,196.9 497.40,197.1 498.15,197.1 498.15,196.7 498.90,196.7 498.90,198.7 499.65,198.7 499.65,197.6 500.40,197.6 500.40,197.1 501.15,197.1 501.15,199.4 501.90,199.4 501.90,200.5 502.65,200.5 502.65,201.5 503.40,201.5 503.40,200.0 504.15,200.0 504.15,200.2 504.90,200.2 504.90,199.4 505.65,199.4 505.65,201.0 506.40,201.0 506.40,198.4 507.15,198.4 507.15,195.6 507.90,195.6 507.90,190.9 508.65,190.9 508.65,192.3 509.40,192.3 509.40,193.2 510.15,193.2 510.15,195.3 510.90,195.3 510.90,196.7 511.65,196.7 511.65,197.6 512.40,197.6 512.40,198.7 513.15,198.7 513.15,197.9 513.90,197.9 513.90,200.8 514.65,200.8 514.65,201.5 515.40,201.5 515.40,201.8 516.15,201.8 516.15,201.6 516.90,201.6 516.90,199.3 517.65,199.3 517.65,199.0 518.40,199.0 518.40,197.5 519.15,197.5 519.15,194.7 519.90,194.7 519.90,191.2 520.65,191.2 520.65,187.4 521.40,187.4 521.40,191.7 522.15,191.7 522.15,188.2 522.90,188.2 522.90,189.2 523.65,189.2 523.65,187.3 524.40,187.3 524.40,185.6 525.15,185.6 525.15,192.6 525.90,192.6 525.90,195.4 526.65,195.4 526.65,193.5 527.40,193.5 527.40,196.7 528.15,196.7 528.15,191.7 528.90,191.7 528.90,196.7 529.65,196.7 529.65,195.8 530.40,195.8 530.40,192.0 531.15,192.0 531.15,190.8 531.90,190.8 531.90,187.1 532.65,187.1 532.65,181.6 533.40,181.6 533.40,171.6 534.15,171.6 534.15,174.4 534.90,174.4 534.90,173.4 535.65,173.4 535.65,173.4 536.40,173.4 536.40,172.2 537.15,172.2 537.15,168.5 537.90,168.5 537.90,166.2 538.65,166.2 538.65,172.4 539.40,172.4 539.40,172.5 540.15,172.5 540.15,179.4 540.90,179.4 540.90,181.1 541.65,181.1 541.65,175.9 542.40,175.9 542.40,183.9 543.15,183.9 543.15,185.0 543.90,185.0 543.90,182.5 544.65,182.5 544.65,186.3 545.40,186.3 545.40,186.9 546.15,186.9 546.15,186.6 546.20,186.6 546.20,217.3 546.15,217.3 546.15,218.2 545.40,218.2 545.40,218.1 544.65,218.1 544.65,218.7 543.90,218.7 543.90,216.9 543.15,216.9 543.15,213.1 542.40,213.1 542.40,210.6 541.65,210.6 541.65,210.8 540.90,210.8 540.90,206.6 540.15,206.6 540.15,206.3 539.40,206.3 539.40,205.7 538.65,205.7 538.65,204.7 537.90,204.7 537.90,206.2 537.15,206.2 537.15,203.6 536.40,203.6 536.40,203.9 535.65,203.9 535.65,203.2 534.90,203.2 534.90,206.9 534.15,206.9 534.15,207.1 533.40,207.1 533.40,212.0 532.65,212.0 532.65,219.0 531.90,219.0 531.90,222.4 531.15,222.4 531.15,224.2 530.40,224.2 530.40,228.2 529.65,228.2 529.65,231.2 528.90,231.2 528.90,225.8 528.15,225.8 528.15,230.7 527.40,230.7 527.40,224.1 526.65,224.1 526.65,223.2 525.90,223.2 525.90,223.5 525.15,223.5 525.15,221.9 524.40,221.9 524.40,220.6 523.65,220.6 523.65,219.7 522.90,219.7 522.90,218.8 522.15,218.8 522.15,218.3 521.40,218.3 521.40,220.1 520.65,220.1 520.65,224.6 519.90,224.6 519.90,225.3 519.15,225.3 519.15,228.7 518.40,228.7 518.40,226.0 517.65,226.0 517.65,226.9 516.90,226.9 516.90,231.9 516.15,231.9 516.15,232.4 515.40,232.4 515.40,227.9 514.65,227.9 514.65,227.8 513.90,227.8 513.90,226.4 513.15,226.4 513.15,225.4 512.40,225.4 512.40,226.3 511.65,226.3 511.65,225.4 510.90,225.4 510.90,223.6 510.15,223.6 510.15,227.7 509.40,227.7 509.40,229.9 508.65,229.9 508.65,226.6 507.90,226.6 507.90,227.7 507.15,227.7 507.15,230.5 506.40,230.5 506.40,233.2 505.65,233.2 505.65,231.1 504.90,231.1 504.90,231.2 504.15,231.2 504.15,231.2 503.40,231.2 503.40,232.2 502.65,232.2 502.65,231.0 501.90,231.0 501.90,228.3 501.15,228.3 501.15,227.4 500.40,227.4 500.40,226.0 499.65,226.0 499.65,225.3 498.90,225.3 498.90,225.8 498.15,225.8 498.15,226.7 497.40,226.7 497.40,226.7 496.65,226.7 496.65,223.3 495.90,223.3 495.90,223.0 495.15,223.0 495.15,222.7 494.40,222.7 494.40,226.2 493.65,226.2 493.65,227.1 492.90,227.1 492.90,224.1 492.15,224.1 492.15,221.6 491.40,221.6 491.40,221.5 490.65,221.5 490.65,220.3 489.90,220.3 489.90,219.5 489.15,219.5 489.15,221.0 488.40,221.0 488.40,216.1 487.65,216.1 487.65,218.1 486.90,218.1 486.90,214.7 486.15,214.7 486.15,214.2 485.40,214.2 485.40,211.2 484.65,211.2 484.65,209.8 483.90,209.8 483.90,209.5 483.15,209.5 483.15,209.0 482.40,209.0 482.40,208.0 481.65,208.0 481.65,204.5 480.90,204.5 480.90,204.9 480.15,204.9 480.15,198.7 479.40,198.7 479.40,197.0 478.65,197.0 478.65,196.8 477.90,196.8 477.90,197.2 477.15,197.2 477.15,200.7 476.40,200.7 476.40,201.8 475.65,201.8 475.65,204.3 474.90,204.3 474.90,205.2 474.15,205.2 474.15,208.0 473.40,208.0 473.40,206.4 472.65,206.4 472.65,209.9 471.90,209.9 471.90,204.9 471.15,204.9 471.15,205.0 470.40,205.0 470.40,203.9 469.65,203.9 469.65,202.3 468.90,202.3 468.90,203.4 468.15,203.4 468.15,203.2 467.40,203.2 467.40,203.7 466.65,203.7 466.65,205.5 465.90,205.5 465.90,208.2 465.15,208.2 465.15,209.9 464.40,209.9 464.40,209.6 463.65,209.6 463.65,208.6 462.90,208.6 462.90,209.8 462.15,209.8 462.15,208.7 461.40,208.7 461.40,209.3 460.65,209.3 460.65,210.1 459.90,210.1 459.90,210.5 459.15,210.5 459.15,209.8 458.40,209.8 458.40,213.6 457.65,213.6 457.65,210.9 456.90,210.9 456.90,212.5 456.15,212.5 456.15,212.0 455.40,212.0 455.40,209.4 454.65,209.4 454.65,208.4 453.90,208.4 453.90,207.1 453.15,207.1 453.15,208.7 452.40,208.7 452.40,210.6 451.65,210.6 451.65,216.9 450.90,216.9 450.90,216.4 450.15,216.4 450.15,217.7 449.40,217.7 449.40,219.2 448.65,219.2 448.65,218.3 447.90,218.3 447.90,219.6 447.15,219.6 447.15,218.8 446.40,218.8 446.40,214.4 445.65,214.4 445.65,212.9 444.90,212.9 444.90,212.6 444.15,212.6 444.15,210.0 443.40,210.0 443.40,209.8 442.65,209.8 442.65,210.1 441.90,210.1 441.90,210.2 441.15,210.2 441.15,211.1 440.40,211.1 440.40,205.8 439.65,205.8 439.65,204.6 438.90,204.6 438.90,203.7 438.15,203.7 438.15,198.9 437.40,198.9 437.40,199.9 436.65,199.9 436.65,195.8 435.90,195.8 435.90,194.2 435.15,194.2 435.15,195.0 434.40,195.0 434.40,195.9 433.65,195.9 433.65,200.1 432.90,200.1 432.90,198.9 432.15,198.9 432.15,199.1 431.40,199.1 431.40,198.5 430.65,198.5 430.65,198.3 429.90,198.3 429.90,199.7 429.15,199.7 429.15,199.0 428.40,199.0 428.40,199.8 427.65,199.8 427.65,203.3 426.90,203.3 426.90,203.0 426.15,203.0 426.15,203.4 425.40,203.4 425.40,202.7 424.65,202.7 424.65,203.2 423.90,203.2 423.90,206.9 423.15,206.9 423.15,204.3 422.40,204.3 422.40,207.5 421.65,207.5 421.65,203.1 420.90,203.1 420.90,208.9 420.15,208.9 420.15,205.3 419.40,205.3 419.40,206.3 418.65,206.3 418.65,206.3 417.90,206.3 417.90,206.7 417.15,206.7 417.15,209.1 416.40,209.1 416.40,209.2 415.65,209.2 415.65,209.4 414.90,209.4 414.90,210.3 414.15,210.3 414.15,212.1 413.40,212.1 413.40,213.5 412.65,213.5 412.65,211.6 411.90,211.6 411.90,217.0 411.15,217.0 411.15,214.4 410.40,214.4 410.40,211.8 409.65,211.8 409.65,211.1 408.90,211.1 408.90,216.7 408.15,216.7 408.15,217.4 407.40,217.4 407.40,213.5 406.65,213.5 406.65,215.9 405.90,215.9 405.90,219.7 405.15,219.7 405.15,222.5 404.40,222.5 404.40,224.3 403.65,224.3 403.65,226.6 402.90,226.6 402.90,230.6 402.15,230.6 402.15,226.1 401.40,226.1 401.40,226.0 400.65,226.0 400.65,225.4 399.90,225.4 399.90,224.4 399.15,224.4 399.15,221.5 398.40,221.5 398.40,221.7 397.65,221.7 397.65,223.0 396.90,223.0 396.90,219.5 396.15,219.5 396.15,218.4 395.40,218.4 395.40,216.4 394.65,216.4 394.65,220.2 393.90,220.2 393.90,211.7 393.15,211.7 393.15,210.4 392.40,210.4 392.40,207.4 391.65,207.4 391.65,206.9 390.90,206.9 390.90,204.3 390.15,204.3 390.15,203.5 389.40,203.5 389.40,200.8 388.65,200.8 388.65,197.0 387.90,197.0 387.90,196.2 387.15,196.2 387.15,196.5 386.40,196.5 386.40,197.4 385.65,197.4 385.65,196.1 384.90,196.1 384.90,194.4 384.15,194.4 384.15,194.3 383.40,194.3 383.40,193.6 382.65,193.6 382.65,193.5 381.90,193.5 381.90,190.9 381.15,190.9 381.15,191.1 380.40,191.1 380.40,191.1 379.65,191.1 379.65,191.3 378.90,191.3 378.90,194.8 378.15,194.8 378.15,193.8 377.40,193.8 377.40,196.6 376.65,196.6 376.65,196.5 375.90,196.5 375.90,199.1 375.15,199.1 375.15,198.4 374.40,198.4 374.40,203.2 373.65,203.2 373.65,198.7 372.90,198.7 372.90,199.4 372.15,199.4 372.15,200.9 371.40,200.9 371.40,204.4 370.65,204.4 370.65,208.2 369.90,208.2 369.90,211.3 369.15,211.3 369.15,214.8 368.40,214.8 368.40,218.2 367.65,218.2 367.65,215.4 366.90,215.4 366.90,217.1 366.15,217.1 366.15,214.9 365.40,214.9 365.40,215.0 364.65,215.0 364.65,214.8 363.90,214.8 363.90,215.9 363.15,215.9 363.15,218.1 362.40,218.1 362.40,220.1 361.65,220.1 361.65,216.1 360.90,216.1 360.90,216.6 360.15,216.6 360.15,215.1 359.40,215.1 359.40,212.8 358.65,212.8 358.65,214.1 357.90,214.1 357.90,216.6 357.15,216.6 357.15,213.3 356.40,213.3 356.40,213.3 355.65,213.3 355.65,212.6 354.90,212.6 354.90,211.4 354.15,211.4 354.15,212.2 353.40,212.2 353.40,213.9 352.65,213.9 352.65,211.4 351.90,211.4 351.90,212.6 351.15,212.6 351.15,213.3 350.40,213.3 350.40,211.4 349.65,211.4 349.65,213.3 348.90,213.3 348.90,219.2 348.15,219.2 348.15,218.1 347.40,218.1 347.40,222.7 346.65,222.7 346.65,223.6 345.90,223.6 345.90,228.8 345.15,228.8 345.15,228.3 344.40,228.3 344.40,229.8 343.65,229.8 343.65,231.9 342.90,231.9 342.90,234.5 342.15,234.5 342.15,238.4 341.40,238.4 341.40,237.9 340.65,237.9 340.65,237.6 339.90,237.6 339.90,240.3 339.15,240.3 339.15,235.6 338.40,235.6 338.40,234.4 337.65,234.4 337.65,235.3 336.90,235.3 336.90,236.9 336.15,236.9 336.15,231.0 335.40,231.0 335.40,230.2 334.65,230.2 334.65,236.8 333.90,236.8 333.90,231.8 333.15,231.8 333.15,230.9 332.40,230.9 332.40,237.6 331.65,237.6 331.65,229.7 330.90,229.7 330.90,229.5 330.15,229.5 330.15,231.3 329.40,231.3 329.40,230.9 328.65,230.9 328.65,230.8 327.90,230.8 327.90,230.1 327.15,230.1 327.15,228.9 326.40,228.9 326.40,234.5 325.65,234.5 325.65,226.2 324.90,226.2 324.90,226.9 324.15,226.9 324.15,227.2 323.40,227.2 323.40,230.7 322.65,230.7 322.65,227.7 321.90,227.7 321.90,231.7 321.15,231.7 321.15,233.7 320.40,233.7 320.40,233.7 319.65,233.7 319.65,234.5 318.90,234.5 318.90,235.5 318.15,235.5 318.15,233.0 317.40,233.0 317.40,233.4 316.65,233.4 316.65,237.0 315.90,237.0 315.90,239.8 315.15,239.8 315.15,238.0 314.40,238.0 314.40,241.9 313.65,241.9 313.65,242.3 312.90,242.3 312.90,243.2 312.15,243.2 312.15,241.9 311.40,241.9 311.40,241.7 310.65,241.7 310.65,244.0 309.90,244.0 309.90,241.3 309.15,241.3 309.15,241.3 308.40,241.3 308.40,244.1 307.65,244.1 307.65,240.1 306.90,240.1 306.90,240.7 306.15,240.7 306.15,237.2 305.40,237.2 305.40,236.9 304.65,236.9 304.65,237.7 303.90,237.7 303.90,234.0 303.15,234.0 303.15,233.5 302.40,233.5 302.40,234.3 301.65,234.3 301.65,234.9 300.90,234.9 300.90,235.5 300.15,235.5 300.15,239.7 299.40,239.7 299.40,238.9 298.65,238.9 298.65,240.5 297.90,240.5 297.90,242.7 297.15,242.7 297.15,243.3 296.40,243.3 296.40,248.5 295.65,248.5 295.65,246.4 294.90,246.4 294.90,248.5 294.15,248.5 294.15,247.1 293.40,247.1 293.40,247.2 292.65,247.2 292.65,249.3 291.90,249.3 291.90,248.6 291.15,248.6 291.15,249.2 290.40,249.2 290.40,248.2 289.65,248.2 289.65,251.2 288.90,251.2 288.90,248.1 288.15,248.1 288.15,249.3 287.40,249.3 287.40,246.6 286.65,246.6 286.65,247.3 285.90,247.3 285.90,248.9 285.15,248.9 285.15,247.6 284.40,247.6 284.40,246.8 283.65,246.8 283.65,245.8 282.90,245.8 282.90,246.7 282.15,246.7 282.15,247.3 281.40,247.3 281.40,246.7 280.65,246.7 280.65,252.9 279.90,252.9 279.90,250.4 279.15,250.4 279.15,254.1 278.40,254.1 278.40,259.3 277.65,259.3 277.65,254.7 276.90,254.7 276.90,255.6 276.15,255.6 276.15,253.4 275.40,253.4 275.40,252.2 274.65,252.2 274.65,247.8 273.90,247.8 273.90,247.5 273.15,247.5 273.15,243.0 272.40,243.0 272.40,240.4 271.65,240.4 271.65,238.4 270.90,238.4 270.90,239.2 270.15,239.2 270.15,236.1 269.40,236.1 269.40,236.5 268.65,236.5 268.65,236.5 267.90,236.5 267.90,235.5 267.15,235.5 267.15,236.5 266.40,236.5 266.40,233.6 265.65,233.6 265.65,232.8 264.90,232.8 264.90,232.8 264.15,232.8 264.15,232.4 263.40,232.4 263.40,238.1 262.65,238.1 262.65,236.9 261.90,236.9 261.90,234.8 261.15,234.8 261.15,230.9 260.40,230.9 260.40,230.3 259.65,230.3 259.65,226.8 258.90,226.8 258.90,229.5 258.15,229.5 258.15,226.5 257.40,226.5 257.40,225.8 256.65,225.8 256.65,225.0 255.90,225.0 255.90,225.6 255.15,225.6 255.15,227.4 254.40,227.4 254.40,229.3 253.65,229.3 253.65,232.0 252.90,232.0 252.90,234.9 252.15,234.9 252.15,227.7 251.40,227.7 251.40,227.7 250.65,227.7 250.65,228.4 249.90,228.4 249.90,228.9 249.15,228.9 249.15,229.8 248.40,229.8 248.40,232.6 247.65,232.6 247.65,228.2 246.90,228.2 246.90,226.8 246.15,226.8 246.15,232.9 245.40,232.9 245.40,225.2 244.65,225.2 244.65,223.9 243.90,223.9 243.90,224.5 243.15,224.5 243.15,226.4 242.40,226.4 242.40,227.5 241.65,227.5 241.65,228.7 240.90,228.7 240.90,227.0 240.15,227.0 240.15,226.1 239.40,226.1 239.40,228.6 238.65,228.6 238.65,226.0 237.90,226.0 237.90,224.4 237.15,224.4 237.15,225.0 236.40,225.0 236.40,225.0 235.65,225.0 235.65,227.1 234.90,227.1 234.90,227.7 234.15,227.7 234.15,224.6 233.40,224.6 233.40,226.9 232.65,226.9 232.65,226.7 231.90,226.7 231.90,228.8 231.15,228.8 231.15,225.9 230.40,225.9 230.40,232.9 229.65,232.9 229.65,226.4 228.90,226.4 228.90,232.1 228.15,232.1 228.15,227.0 227.40,227.0 227.40,222.0 226.65,222.0 226.65,224.3 225.90,224.3 225.90,220.3 225.15,220.3 225.15,218.5 224.40,218.5 224.40,219.1 223.65,219.1 223.65,218.3 222.90,218.3 222.90,224.8 222.15,224.8 222.15,223.0 221.40,223.0 221.40,222.3 220.65,222.3 220.65,224.0 219.90,224.0 219.90,224.5 219.15,224.5 219.15,224.2 218.40,224.2 218.40,226.3 217.65,226.3 217.65,226.9 216.90,226.9 216.90,226.3 216.15,226.3 216.15,232.2 215.40,232.2 215.40,229.8 214.65,229.8 214.65,233.1 213.90,233.1 213.90,228.0 213.15,228.0 213.15,227.7 212.40,227.7 212.40,231.9 211.65,231.9 211.65,231.7 210.90,231.7 210.90,228.4 210.15,228.4 210.15,227.0 209.40,227.0 209.40,226.9 208.65,226.9 208.65,231.6 207.90,231.6 207.90,226.3 207.15,226.3 207.15,229.2 206.40,229.2 206.40,229.1 205.65,229.1 205.65,235.5 204.90,235.5 204.90,235.0 204.15,235.0 204.15,234.4 203.40,234.4 203.40,237.8 202.65,237.8 202.65,239.0 201.90,239.0 201.90,235.8 201.15,235.8 201.15,237.7 200.40,237.7 200.40,237.1 199.65,237.1 199.65,234.0 198.90,234.0 198.90,236.5 198.15,236.5 198.15,231.3 197.40,231.3 197.40,231.1 196.65,231.1 196.65,234.0 195.90,234.0 195.90,230.0 195.15,230.0 195.15,228.2 194.40,228.2 194.40,231.0 193.65,231.0 193.65,230.0 192.90,230.0 192.90,229.1 192.15,229.1 192.15,236.5 191.40,236.5 191.40,229.4 190.65,229.4 190.65,229.5 189.90,229.5 189.90,227.4 189.15,227.4 189.15,227.2 188.40,227.2 188.40,230.9 187.65,230.9 187.65,222.3 186.90,222.3 186.90,221.7 186.15,221.7 186.15,220.5 185.40,220.5 185.40,218.9 184.65,218.9 184.65,216.4 183.90,216.4 183.90,214.2 183.15,214.2 183.15,213.6 182.40,213.6 182.40,211.4 181.65,211.4 181.65,212.6 180.90,212.6 180.90,212.1 180.15,212.1 180.15,210.6 179.40,210.6 179.40,209.2 178.65,209.2 178.65,212.5 177.90,212.5 177.90,205.5 177.15,205.5 177.15,204.0 176.40,204.0 176.40,205.9 175.65,205.9 175.65,206.4 174.90,206.4 174.90,207.3 174.15,207.3 174.15,209.7 173.40,209.7 173.40,211.6 172.65,211.6 172.65,214.0 171.90,214.0 171.90,217.6 171.15,217.6 171.15,216.2 170.40,216.2 170.40,218.5 169.65,218.5 169.65,217.9 168.90,217.9 168.90,219.6 168.15,219.6 168.15,218.7 167.40,218.7 167.40,216.9 166.65,216.9 166.65,215.1 165.90,215.1 165.90,213.8 165.15,213.8 165.15,213.0 164.40,213.0 164.40,213.0 163.65,213.0 163.65,212.7 162.90,212.7 162.90,211.3 162.15,211.3 162.15,212.6 161.40,212.6 161.40,207.9 160.65,207.9 160.65,204.8 159.90,204.8 159.90,202.2 159.15,202.2 159.15,199.8 158.40,199.8 158.40,201.8 157.65,201.8 157.65,198.0 156.90,198.0 156.90,202.5 156.15,202.5 156.15,197.8 155.40,197.8 155.40,196.6 154.65,196.6 154.65,194.5 153.90,194.5 153.90,193.0 153.15,193.0 153.15,191.2 152.40,191.2 152.40,197.5 151.65,197.5 151.65,189.9 150.90,189.9 150.90,196.4 150.15,196.4 150.15,191.6 149.40,191.6 149.40,189.8 148.65,189.8 148.65,193.0 147.90,193.0 147.90,193.6 147.15,193.6 147.15,195.9 146.40,195.9 146.40,196.9 145.65,196.9 145.65,198.4 144.90,198.4 144.90,201.0 144.15,201.0 144.15,201.4 143.40,201.4 143.40,202.0 142.65,202.0 142.65,203.8 141.90,203.8 141.90,202.6 141.15,202.6 141.15,204.1 140.40,204.1 140.40,204.9 139.65,204.9 139.65,208.3 138.90,208.3 138.90,207.7 138.15,207.7 138.15,214.5 137.40,214.5 137.40,207.9 136.65,207.9 136.65,209.0 135.90,209.0 135.90,207.5 135.15,207.5 135.15,207.6 134.40,207.6 134.40,208.9 133.65,208.9 133.65,208.7 132.90,208.7 132.90,208.1 132.15,208.1 132.15,209.2 131.40,209.2 131.40,207.9 130.65,207.9 130.65,215.4 129.90,215.4 129.90,208.9 129.15,208.9 129.15,210.7 128.40,210.7 128.40,212.5 127.65,212.5 127.65,213.6 126.90,213.6 126.90,214.6 126.15,214.6 126.15,217.4 125.40,217.4 125.40,215.2 124.65,215.2 124.65,213.9 123.90,213.9 123.90,215.3 123.15,215.3 123.15,214.5 122.40,214.5 122.40,218.7 121.65,218.7 121.65,217.3 120.90,217.3 120.90,220.3 120.15,220.3 120.15,222.0 119.40,222.0 119.40,221.3 118.65,221.3 118.65,222.3 117.90,222.3 117.90,224.4 117.15,224.4 117.15,220.6 116.40,220.6 116.40,219.6 115.65,219.6 115.65,222.2 114.90,222.2 114.90,216.5 114.15,216.5 114.15,216.8 113.40,216.8 113.40,222.3 112.65,222.3 112.65,216.2 111.90,216.2 111.90,216.6 111.15,216.6 111.15,215.4 110.40,215.4 110.40,214.5 109.65,214.5 109.65,214.3 108.90,214.3 108.90,215.7 108.15,215.7 108.15,213.4 107.40,213.4 107.40,213.4 106.65,213.4 106.65,211.6 105.90,211.6 105.90,210.6 105.15,210.6 105.15,209.2 104.40,209.2 104.40,208.0 103.65,208.0 103.65,207.4 102.90,207.4 102.90,206.9 102.15,206.9"/>
</g>
<g clip-path="url(#axl)" fill="none">
<path d="M102.49,198.64 L102.53,198.21 L102.58,197.80 L102.63,197.42 L102.68,197.05 L102.73,196.71 L102.78,196.37 L102.83,196.05 L102.88,195.74 L102.93,195.44 L102.97,195.15 L103.02,194.87 L103.07,194.59 L103.12,194.32 L103.17,194.06 L103.22,193.80 L103.27,193.55 L103.32,193.30 L103.37,193.06 L103.41,192.83 L103.46,192.60 L103.51,192.37 L103.56,192.15 L103.61,191.93 L103.66,191.71 L103.71,191.50 L103.76,191.29 L103.80,191.09 L103.85,190.88 L103.90,190.69 L103.95,190.49 L104.00,190.30 L104.05,190.11 L104.10,189.92 L104.15,189.73 L104.20,189.55 L104.24,189.37 L104.29,189.19 L104.34,189.02 L104.39,188.84 L104.44,188.67 L104.49,188.50 L104.54,188.34 L104.59,188.17 L104.64,188.01 L104.68,187.85 L104.73,187.69 L104.78,187.53 L104.83,187.38 L104.88,187.22 L104.93,187.07 L104.98,186.92 L105.03,186.77 L105.07,186.63 L105.12,186.48 L105.17,186.34 L105.22,186.20 L105.27,186.06 L105.32,185.92 L105.37,185.79 L105.42,185.65 L105.47,185.52 L105.51,185.39 L105.56,185.26 L105.61,185.13 L105.66,185.00 L105.71,184.88 L105.76,184.75 L105.81,184.63 L105.86,184.51 L105.91,184.39 L105.95,184.27 L106.00,184.15 L106.05,184.03 L106.10,183.92 L106.15,183.80 L106.20,183.69 L106.25,183.57 L106.30,183.46 L106.34,183.35 L106.39,183.24 L106.44,183.13 L106.49,183.02 L106.54,182.91 L106.59,182.81 L106.64,182.70 L106.69,182.60 L106.74,182.49 L106.78,182.39 L106.83,182.29 L106.88,182.18 L106.93,182.08 L106.98,181.98 L107.03,181.88 L107.08,181.78 L107.13,181.68 L107.18,181.59 L107.22,181.49 L107.27,181.39 L107.32,181.29 L107.37,181.20 L107.42,181.10 L107.47,181.01 L107.52,180.92 L107.57,180.82 L107.61,180.73 L107.66,180.64 L107.71,180.54 L107.76,180.45 L107.81,180.36 L107.86,180.27 L107.91,180.18 L107.96,180.09 L108.01,180.00 L108.05,179.91 L108.10,179.82 L108.15,179.73 L108.20,179.65 L108.25,179.56 L108.30,179.47 L108.35,179.38 L108.40,179.30 L108.44,179.21 L108.49,179.13 L108.54,179.04 L108.59,178.95 L108.64,178.87 L108.69,178.78 L108.74,178.70 L108.79,178.62 L108.84,178.53 L108.88,178.45 L108.93,178.36 L108.98,178.28 L109.03,178.20 L109.08,178.11 L109.13,178.03 L109.18,177.95 L109.23,177.86 L109.28,177.78 L109.32,177.70 L109.37,177.62 L109.42,177.54 L109.47,177.45 L109.52,177.37 L109.57,177.29 L109.62,177.21 L109.67,177.13 L109.71,177.05 L109.76,176.97 L109.81,176.89 L109.86,176.81 L109.91,176.73 L109.96,176.65 L110.01,176.57 L110.06,176.49 L110.11,176.41 L110.15,176.34 L110.20,176.26 L110.25,176.18 L110.30,176.10 L110.35,176.03 L110.40,175.95 L110.45,175.87 L110.50,175.80 L110.55,175.72 L110.59,175.64 L110.64,175.57 L110.69,175.49 L110.74,175.42 L110.79,175.34 L110.84,175.27 L110.89,175.19 L110.94,175.12 L110.98,175.05 L111.03,174.97 L111.08,174.90 L111.13,174.82 L111.18,174.75 L111.23,174.68 L111.28,174.61 L111.33,174.53 L111.38,174.46 L111.42,174.39 L111.47,174.32 L111.52,174.24 L111.57,174.17 L111.62,174.10 L111.67,174.03 L111.72,173.96 L111.77,173.89 L111.82,173.82 L111.86,173.75 L111.91,173.68 L111.96,173.61 L112.01,173.54 L112.06,173.47 L112.11,173.40 L112.16,173.33 L112.21,173.26 L112.25,173.19 L112.30,173.12 L112.35,173.05 L112.40,172.98 L112.45,172.91 L112.50,172.85 L112.55,172.78 L112.60,172.71 L112.65,172.64 L112.69,172.57 L112.74,172.51 L112.79,172.44 L112.84,172.37 L112.89,172.30 L112.94,172.24 L112.99,172.17 L113.04,172.10 L113.08,172.04 L113.13,171.97 L113.18,171.90 L113.23,171.84 L113.28,171.77 L113.33,171.71 L113.38,171.64 L113.43,171.57 L113.48,171.51 L113.52,171.44 L113.57,171.38 L113.62,171.31 L113.67,171.25 L113.72,171.18 L113.77,171.12 L113.82,171.05 L113.87,170.99 L113.92,170.92 L113.96,170.86 L114.01,170.80 L114.06,170.73 L114.11,170.67 L114.16,170.60 L114.21,170.54 L114.26,170.48 L114.31,170.41 L114.35,170.35 L114.40,170.29 L114.45,170.22 L114.50,170.16 L114.55,170.10 L114.60,170.03 L114.65,169.97 L114.70,169.91 L114.75,169.84 L114.79,169.78 L114.84,169.72 L114.89,169.66 L114.94,169.60 L114.99,169.53 L115.04,169.47 L115.09,169.41 L115.14,169.35 L115.19,169.29 L115.23,169.23 L115.28,169.17 L115.33,169.10 L115.38,169.04 L115.43,168.98 L115.48,168.92 L115.53,168.86 L115.58,168.80 L115.62,168.74 L115.67,168.68 L115.72,168.62 L115.77,168.56 L115.82,168.50 L115.87,168.44 L115.92,168.38 L115.97,168.32 L116.02,168.27 L116.06,168.21 L116.11,168.15 L116.16,168.09 L116.21,168.03 L116.26,167.97 L116.31,167.91 L116.36,167.85 L116.41,167.80 L116.46,167.74 L116.50,167.68 L116.55,167.62 L116.60,167.56 L116.65,167.51 L116.70,167.45 L116.75,167.39 L116.80,167.33 L116.85,167.28 L116.89,167.22 L116.94,167.16 L116.99,167.10 L117.04,167.05 L117.09,166.99 L118.17,165.75 L119.25,164.54 L120.33,163.34 L121.41,162.15 L122.50,160.96 L123.58,159.79 L124.66,158.63 L125.74,157.49 L126.82,156.38 L127.90,155.29 L128.98,154.24 L130.06,153.19 L131.14,152.16 L132.23,151.15 L133.31,150.17 L134.39,149.21 L135.47,148.29 L136.55,147.40 L137.63,146.54 L138.71,145.71 L139.79,144.90 L140.87,144.12 L141.95,143.35 L143.04,142.59 L144.12,141.85 L145.20,141.12 L146.28,140.40 L147.36,139.70 L148.44,139.00 L149.52,138.31 L150.60,137.63 L151.68,136.96 L152.77,136.30 L153.85,135.65 L154.93,135.01 L156.01,134.37 L157.09,133.74 L158.17,133.12 L159.25,132.51 L160.33,131.90 L161.41,131.29 L162.50,130.70 L163.58,130.10 L164.66,129.52 L165.74,128.93 L166.82,128.36 L167.90,127.78 L168.98,127.22 L170.06,126.65 L171.14,126.09 L172.23,125.53 L173.31,124.98 L174.39,124.43 L175.47,123.88 L176.55,123.34 L177.63,122.80 L178.71,122.26 L179.79,121.72 L180.87,121.19 L181.95,120.67 L183.04,120.15 L184.12,119.63 L185.20,119.11 L186.28,118.60 L187.36,118.09 L188.44,117.59 L189.52,117.09 L190.60,116.59 L191.68,116.09 L192.77,115.60 L193.85,115.11 L194.93,114.63 L196.01,114.14 L197.09,113.66 L198.17,113.18 L199.25,112.71 L200.33,112.24 L201.41,111.77 L202.50,111.30 L203.58,110.83 L204.66,110.37 L205.74,109.91 L206.82,109.45 L207.90,109.00 L208.98,108.54 L210.06,108.09 L211.14,107.64 L212.23,107.20 L213.31,106.75 L214.39,106.31 L215.47,105.87 L216.55,105.43 L217.63,104.99 L218.71,104.56 L219.79,104.12 L220.87,103.69 L221.95,103.26 L223.04,102.83 L224.12,102.41 L225.20,101.98 L226.28,101.56 L227.36,101.14 L228.44,100.72 L229.52,100.30 L230.60,99.88 L231.68,99.46 L232.77,99.05 L233.85,98.64 L234.93,98.22 L236.01,97.81 L237.09,97.41 L238.17,97.00 L239.25,96.59 L240.33,96.19 L241.41,95.78 L242.50,95.38 L243.58,94.98 L244.66,94.58 L245.74,94.18 L246.82,93.78 L247.90,93.38 L248.98,92.99 L250.06,92.59 L251.14,92.20 L252.23,91.80 L253.31,91.41 L254.39,91.02 L255.47,90.63 L256.55,90.24 L257.63,89.85 L258.71,89.46 L259.79,89.08 L260.87,88.69 L261.95,88.31 L263.04,87.92 L264.12,87.54 L265.20,87.16 L266.28,86.78 L267.36,86.40 L268.44,86.02 L269.52,85.64 L270.60,85.26 L271.68,84.89 L272.77,84.51 L273.85,84.14 L274.93,83.77 L276.01,83.39 L277.09,83.02 L278.17,82.66 L279.25,82.29 L280.33,81.92 L281.41,81.55 L282.50,81.19 L283.58,80.83 L284.66,80.46 L285.74,80.10 L286.82,79.74 L287.90,79.38 L288.98,79.02 L290.06,78.67 L291.14,78.31 L292.22,77.96 L293.31,77.61 L294.39,77.25 L295.47,76.90 L296.55,76.55 L297.63,76.21 L298.71,75.86 L299.79,75.51 L300.87,75.17 L301.95,74.82 L303.04,74.48 L304.12,74.14 L305.20,73.80 L306.28,73.46 L307.36,73.12 L308.44,72.79 L309.52,72.45 L310.60,72.12 L311.68,71.78 L312.77,71.45 L313.85,71.12 L314.93,70.79 L316.01,70.46 L317.09,70.13 L318.17,69.80 L319.25,69.48 L320.33,69.15 L321.41,68.82 L322.50,68.50 L323.58,68.18 L324.66,67.85 L325.74,67.53 L326.82,67.21 L327.90,66.89 L328.98,66.57 L330.06,66.26 L331.14,65.94 L332.22,65.62 L333.31,65.31 L334.39,64.99 L335.47,64.68 L336.55,64.36 L337.63,64.05 L338.71,63.74 L339.79,63.42 L340.87,63.11 L341.95,62.80 L343.04,62.49 L344.12,62.19 L345.20,61.88 L346.28,61.57 L347.36,61.26 L348.44,60.96 L349.52,60.65 L350.60,60.35 L351.68,60.04 L352.77,59.74 L353.85,59.44 L354.93,59.13 L356.01,58.83 L357.09,58.53 L358.17,58.23 L359.25,57.93 L360.33,57.63 L361.41,57.33 L362.50,57.03 L363.58,56.73 L364.66,56.43 L365.74,56.14 L366.82,55.84 L367.90,55.54 L368.98,55.25 L370.06,54.95 L371.14,54.66 L372.22,54.36 L373.31,54.07 L374.39,53.77 L375.47,53.48 L376.55,53.19 L377.63,52.89 L378.71,52.60 L379.79,52.31 L380.87,52.02 L381.95,51.73 L383.04,51.44 L384.12,51.15 L385.20,50.86 L386.28,50.57 L387.36,50.28 L388.44,49.99 L389.52,49.70 L390.60,49.41 L391.68,49.12 L392.77,48.84 L393.85,48.55 L394.93,48.26 L396.01,47.98 L397.09,47.69 L398.17,47.40 L399.25,47.12 L400.33,46.83 L401.41,46.55 L402.50,46.26 L403.58,45.98 L404.66,45.69 L405.74,45.40 L406.82,45.12 L407.90,44.83 L408.98,44.55 L410.06,44.27 L411.14,43.98 L412.22,43.70 L413.31,43.41 L414.39,43.13 L415.47,42.84 L416.55,42.56 L417.63,42.28 L418.71,41.99 L419.79,41.71 L420.87,41.43 L421.95,41.15 L423.04,40.86 L424.12,40.58 L425.20,40.30 L426.28,40.02 L427.36,39.74 L428.44,39.46 L429.52,39.18 L430.60,38.89 L431.68,38.61 L432.77,38.33 L433.85,38.06 L434.93,37.78 L436.01,37.50 L437.09,37.22 L438.17,36.94 L439.25,36.66 L440.33,36.39 L441.41,36.11 L442.50,35.83 L443.58,35.56 L444.66,35.28 L445.74,35.01 L446.82,34.73 L447.90,34.46 L448.98,34.18 L450.06,33.91 L451.14,33.63 L452.22,33.36 L453.31,33.09 L454.39,32.82 L455.47,32.55 L456.55,32.28 L457.63,32.00 L458.71,31.73 L459.79,31.47 L460.87,31.20 L461.95,30.93 L463.04,30.66 L464.12,30.39 L465.20,30.13 L466.28,29.86 L467.36,29.59 L468.44,29.33 L469.52,29.06 L470.60,28.80 L471.68,28.54 L472.77,28.27 L473.85,28.01 L474.93,27.75 L476.01,27.49 L477.09,27.23 L478.17,26.97 L479.25,26.71 L480.33,26.45 L481.41,26.19 L482.50,25.93 L483.58,25.68 L484.66,25.42 L485.74,25.16 L486.82,24.91 L487.90,24.66 L488.98,24.40 L490.06,24.15 L491.14,23.90 L492.22,23.65 L493.31,23.39 L494.39,23.14 L495.47,22.90 L496.55,22.65 L497.63,22.40 L498.71,22.15 L499.79,21.90 L500.87,21.66 L501.95,21.41 L503.04,21.17 L504.12,20.93 L505.20,20.68 L506.28,20.44 L507.36,20.20 L508.44,19.96 L509.52,19.72 L510.60,19.48 L511.68,19.24 L512.77,19.01 L513.85,18.77 L514.93,18.54 L516.01,18.31 L517.09,18.07 L518.17,17.84 L519.25,17.61 L520.33,17.38 L521.41,17.16 L522.50,16.93 L523.58,16.70 L524.66,16.48 L525.74,16.25 L526.82,16.02 L527.90,15.80 L528.98,15.57 L530.06,15.35 L531.14,15.13 L532.22,14.90 L533.31,14.68 L534.39,14.45 L535.47,14.23 L536.55,14.00 L537.63,13.78 L538.71,13.55 L539.79,13.33 L540.87,13.10 L541.95,12.88 L543.04,12.65 L544.12,12.42 L545.20,12.19 L546.28,11.97 L547.36,11.74 L548.44,11.51" stroke="#abd6e8" stroke-width="11.3"/>
<path d="M102.49,211.06 L102.53,211.49 L102.58,211.90 L102.63,212.28 L102.68,212.65 L102.73,212.99 L102.78,213.33 L102.83,213.65 L102.88,213.96 L102.93,214.26 L102.97,214.55 L103.02,214.83 L103.07,215.11 L103.12,215.38 L103.17,215.64 L103.22,215.90 L103.27,216.15 L103.32,216.40 L103.37,216.64 L103.41,216.87 L103.46,217.10 L103.51,217.33 L103.56,217.55 L103.61,217.77 L103.66,217.99 L103.71,218.20 L103.76,218.41 L103.80,218.61 L103.85,218.82 L103.90,219.01 L103.95,219.21 L104.00,219.40 L104.05,219.59 L104.10,219.78 L104.15,219.97 L104.20,220.15 L104.24,220.33 L104.29,220.51 L104.34,220.68 L104.39,220.86 L104.44,221.03 L104.49,221.20 L104.54,221.36 L104.59,221.53 L104.64,221.69 L104.68,221.85 L104.73,222.01 L104.78,222.17 L104.83,222.32 L104.88,222.48 L104.93,222.63 L104.98,222.78 L105.03,222.93 L105.07,223.07 L105.12,223.22 L105.17,223.36 L105.22,223.50 L105.27,223.64 L105.32,223.78 L105.37,223.91 L105.42,224.05 L105.47,224.18 L105.51,224.31 L105.56,224.44 L105.61,224.57 L105.66,224.70 L105.71,224.82 L105.76,224.95 L105.81,225.07 L105.86,225.19 L105.91,225.31 L105.95,225.43 L106.00,225.55 L106.05,225.67 L106.10,225.78 L106.15,225.90 L106.20,226.01 L106.25,226.13 L106.30,226.24 L106.34,226.35 L106.39,226.46 L106.44,226.57 L106.49,226.68 L106.54,226.79 L106.59,226.89 L106.64,227.00 L106.69,227.10 L106.74,227.21 L106.78,227.31 L106.83,227.41 L106.88,227.52 L106.93,227.62 L106.98,227.72 L107.03,227.82 L107.08,227.92 L107.13,228.02 L107.18,228.11 L107.22,228.21 L107.27,228.31 L107.32,228.41 L107.37,228.50 L107.42,228.60 L107.47,228.69 L107.52,228.78 L107.57,228.88 L107.61,228.97 L107.66,229.06 L107.71,229.16 L107.76,229.25 L107.81,229.34 L107.86,229.43 L107.91,229.52 L107.96,229.61 L108.01,229.70 L108.05,229.79 L108.10,229.88 L108.15,229.97 L108.20,230.05 L108.25,230.14 L108.30,230.23 L108.35,230.32 L108.40,230.40 L108.44,230.49 L108.49,230.57 L108.54,230.66 L108.59,230.75 L108.64,230.83 L108.69,230.92 L108.74,231.00 L108.79,231.08 L108.84,231.17 L108.88,231.25 L108.93,231.34 L108.98,231.42 L109.03,231.50 L109.08,231.59 L109.13,231.67 L109.18,231.75 L109.23,231.84 L109.28,231.92 L109.32,232.00 L109.37,232.08 L109.42,232.16 L109.47,232.25 L109.52,232.33 L109.57,232.41 L109.62,232.49 L109.67,232.57 L109.71,232.65 L109.76,232.73 L109.81,232.81 L109.86,232.89 L109.91,232.97 L109.96,233.05 L110.01,233.13 L110.06,233.21 L110.11,233.29 L110.15,233.36 L110.20,233.44 L110.25,233.52 L110.30,233.60 L110.35,233.67 L110.40,233.75 L110.45,233.83 L110.50,233.90 L110.55,233.98 L110.59,234.06 L110.64,234.13 L110.69,234.21 L110.74,234.28 L110.79,234.36 L110.84,234.43 L110.89,234.51 L110.94,234.58 L110.98,234.65 L111.03,234.73 L111.08,234.80 L111.13,234.88 L111.18,234.95 L111.23,235.02 L111.28,235.09 L111.33,235.17 L111.38,235.24 L111.42,235.31 L111.47,235.38 L111.52,235.46 L111.57,235.53 L111.62,235.60 L111.67,235.67 L111.72,235.74 L111.77,235.81 L111.82,235.88 L111.86,235.95 L111.91,236.02 L111.96,236.09 L112.01,236.16 L112.06,236.23 L112.11,236.30 L112.16,236.37 L112.21,236.44 L112.25,236.51 L112.30,236.58 L112.35,236.65 L112.40,236.72 L112.45,236.79 L112.50,236.85 L112.55,236.92 L112.60,236.99 L112.65,237.06 L112.69,237.13 L112.74,237.19 L112.79,237.26 L112.84,237.33 L112.89,237.40 L112.94,237.46 L112.99,237.53 L113.04,237.60 L113.08,237.66 L113.13,237.73 L113.18,237.80 L113.23,237.86 L113.28,237.93 L113.33,237.99 L113.38,238.06 L113.43,238.13 L113.48,238.19 L113.52,238.26 L113.57,238.32 L113.62,238.39 L113.67,238.45 L113.72,238.52 L113.77,238.58 L113.82,238.65 L113.87,238.71 L113.92,238.78 L113.96,238.84 L114.01,238.90 L114.06,238.97 L114.11,239.03 L114.16,239.10 L114.21,239.16 L114.26,239.22 L114.31,239.29 L114.35,239.35 L114.40,239.41 L114.45,239.48 L114.50,239.54 L114.55,239.60 L114.60,239.67 L114.65,239.73 L114.70,239.79 L114.75,239.86 L114.79,239.92 L114.84,239.98 L114.89,240.04 L114.94,240.10 L114.99,240.17 L115.04,240.23 L115.09,240.29 L115.14,240.35 L115.19,240.41 L115.23,240.47 L115.28,240.53 L115.33,240.60 L115.38,240.66 L115.43,240.72 L115.48,240.78 L115.53,240.84 L115.58,240.90 L115.62,240.96 L115.67,241.02 L115.72,241.08 L115.77,241.14 L115.82,241.20 L115.87,241.26 L115.92,241.32 L115.97,241.38 L116.02,241.43 L116.06,241.49 L116.11,241.55 L116.16,241.61 L116.21,241.67 L116.26,241.73 L116.31,241.79 L116.36,241.85 L116.41,241.90 L116.46,241.96 L116.50,242.02 L116.55,242.08 L116.60,242.14 L116.65,242.19 L116.70,242.25 L116.75,242.31 L116.80,242.37 L116.85,242.42 L116.89,242.48 L116.94,242.54 L116.99,242.60 L117.04,242.65 L117.09,242.71 L118.17,243.95 L119.25,245.16 L120.33,246.36 L121.41,247.55 L122.50,248.74 L123.58,249.91 L124.66,251.07 L125.74,252.21 L126.82,253.32 L127.90,254.41 L128.98,255.46 L130.06,256.51 L131.14,257.54 L132.23,258.55 L133.31,259.53 L134.39,260.49 L135.47,261.41 L136.55,262.30 L137.63,263.16 L138.71,263.99 L139.79,264.80 L140.87,265.58 L141.95,266.35 L143.04,267.11 L144.12,267.85 L145.20,268.58 L146.28,269.30 L147.36,270.00 L148.44,270.70 L149.52,271.39 L150.60,272.07 L151.68,272.74 L152.77,273.40 L153.85,274.05 L154.93,274.69 L156.01,275.33 L157.09,275.96 L158.17,276.58 L159.25,277.19 L160.33,277.80 L161.41,278.41 L162.50,279.00 L163.58,279.60 L164.66,280.18 L165.74,280.77 L166.82,281.34 L167.90,281.92 L168.98,282.48 L170.06,283.05 L171.14,283.61 L172.23,284.17 L173.31,284.72 L174.39,285.27 L175.47,285.82 L176.55,286.36 L177.63,286.90 L178.71,287.44 L179.79,287.98 L180.87,288.51 L181.95,289.03 L183.04,289.55 L184.12,290.07 L185.20,290.59 L186.28,291.10 L187.36,291.61 L188.44,292.11 L189.52,292.61 L190.60,293.11 L191.68,293.61 L192.77,294.10 L193.85,294.59 L194.93,295.07 L196.01,295.56 L197.09,296.04 L198.17,296.52 L199.25,296.99 L200.33,297.46 L201.41,297.93 L202.50,298.40 L203.58,298.87 L204.66,299.33 L205.74,299.79 L206.82,300.25 L207.90,300.70 L208.98,301.16 L210.06,301.61 L211.14,302.06 L212.23,302.50 L213.31,302.95 L214.39,303.39 L215.47,303.83 L216.55,304.27 L217.63,304.71 L218.71,305.14 L219.79,305.58 L220.87,306.01 L221.95,306.44 L223.04,306.87 L224.12,307.29 L225.20,307.72 L226.28,308.14 L227.36,308.56 L228.44,308.98 L229.52,309.40 L230.60,309.82 L231.68,310.24 L232.77,310.65 L233.85,311.06 L234.93,311.48 L236.01,311.89 L237.09,312.29 L238.17,312.70 L239.25,313.11 L240.33,313.51 L241.41,313.92 L242.50,314.32 L243.58,314.72 L244.66,315.12 L245.74,315.52 L246.82,315.92 L247.90,316.32 L248.98,316.71 L250.06,317.11 L251.14,317.50 L252.23,317.90 L253.31,318.29 L254.39,318.68 L255.47,319.07 L256.55,319.46 L257.63,319.85 L258.71,320.24 L259.79,320.62 L260.87,321.01 L261.95,321.39 L263.04,321.78 L264.12,322.16 L265.20,322.54 L266.28,322.92 L267.36,323.30 L268.44,323.68 L269.52,324.06 L270.60,324.44 L271.68,324.81 L272.77,325.19 L273.85,325.56 L274.93,325.93 L276.01,326.31 L277.09,326.68 L278.17,327.04 L279.25,327.41 L280.33,327.78 L281.41,328.15 L282.50,328.51 L283.58,328.87 L284.66,329.24 L285.74,329.60 L286.82,329.96 L287.90,330.32 L288.98,330.68 L290.06,331.03 L291.14,331.39 L292.22,331.74 L293.31,332.09 L294.39,332.45 L295.47,332.80 L296.55,333.15 L297.63,333.49 L298.71,333.84 L299.79,334.19 L300.87,334.53 L301.95,334.88 L303.04,335.22 L304.12,335.56 L305.20,335.90 L306.28,336.24 L307.36,336.58 L308.44,336.91 L309.52,337.25 L310.60,337.58 L311.68,337.92 L312.77,338.25 L313.85,338.58 L314.93,338.91 L316.01,339.24 L317.09,339.57 L318.17,339.90 L319.25,340.22 L320.33,340.55 L321.41,340.88 L322.50,341.20 L323.58,341.52 L324.66,341.85 L325.74,342.17 L326.82,342.49 L327.90,342.81 L328.98,343.13 L330.06,343.44 L331.14,343.76 L332.22,344.08 L333.31,344.39 L334.39,344.71 L335.47,345.02 L336.55,345.34 L337.63,345.65 L338.71,345.96 L339.79,346.28 L340.87,346.59 L341.95,346.90 L343.04,347.21 L344.12,347.51 L345.20,347.82 L346.28,348.13 L347.36,348.44 L348.44,348.74 L349.52,349.05 L350.60,349.35 L351.68,349.66 L352.77,349.96 L353.85,350.26 L354.93,350.57 L356.01,350.87 L357.09,351.17 L358.17,351.47 L359.25,351.77 L360.33,352.07 L361.41,352.37 L362.50,352.67 L363.58,352.97 L364.66,353.27 L365.74,353.56 L366.82,353.86 L367.90,354.16 L368.98,354.45 L370.06,354.75 L371.14,355.04 L372.22,355.34 L373.31,355.63 L374.39,355.93 L375.47,356.22 L376.55,356.51 L377.63,356.81 L378.71,357.10 L379.79,357.39 L380.87,357.68 L381.95,357.97 L383.04,358.26 L384.12,358.55 L385.20,358.84 L386.28,359.13 L387.36,359.42 L388.44,359.71 L389.52,360.00 L390.60,360.29 L391.68,360.58 L392.77,360.86 L393.85,361.15 L394.93,361.44 L396.01,361.72 L397.09,362.01 L398.17,362.30 L399.25,362.58 L400.33,362.87 L401.41,363.15 L402.50,363.44 L403.58,363.72 L404.66,364.01 L405.74,364.30 L406.82,364.58 L407.90,364.87 L408.98,365.15 L410.06,365.43 L411.14,365.72 L412.22,366.00 L413.31,366.29 L414.39,366.57 L415.47,366.86 L416.55,367.14 L417.63,367.42 L418.71,367.71 L419.79,367.99 L420.87,368.27 L421.95,368.55 L423.04,368.84 L424.12,369.12 L425.20,369.40 L426.28,369.68 L427.36,369.96 L428.44,370.24 L429.52,370.52 L430.60,370.81 L431.68,371.09 L432.77,371.37 L433.85,371.64 L434.93,371.92 L436.01,372.20 L437.09,372.48 L438.17,372.76 L439.25,373.04 L440.33,373.31 L441.41,373.59 L442.50,373.87 L443.58,374.14 L444.66,374.42 L445.74,374.69 L446.82,374.97 L447.90,375.24 L448.98,375.52 L450.06,375.79 L451.14,376.07 L452.22,376.34 L453.31,376.61 L454.39,376.88 L455.47,377.15 L456.55,377.42 L457.63,377.70 L458.71,377.97 L459.79,378.23 L460.87,378.50 L461.95,378.77 L463.04,379.04 L464.12,379.31 L465.20,379.57 L466.28,379.84 L467.36,380.11 L468.44,380.37 L469.52,380.64 L470.60,380.90 L471.68,381.16 L472.77,381.43 L473.85,381.69 L474.93,381.95 L476.01,382.21 L477.09,382.47 L478.17,382.73 L479.25,382.99 L480.33,383.25 L481.41,383.51 L482.50,383.77 L483.58,384.02 L484.66,384.28 L485.74,384.54 L486.82,384.79 L487.90,385.04 L488.98,385.30 L490.06,385.55 L491.14,385.80 L492.22,386.05 L493.31,386.31 L494.39,386.56 L495.47,386.80 L496.55,387.05 L497.63,387.30 L498.71,387.55 L499.79,387.80 L500.87,388.04 L501.95,388.29 L503.04,388.53 L504.12,388.77 L505.20,389.02 L506.28,389.26 L507.36,389.50 L508.44,389.74 L509.52,389.98 L510.60,390.22 L511.68,390.46 L512.77,390.69 L513.85,390.93 L514.93,391.16 L516.01,391.39 L517.09,391.63 L518.17,391.86 L519.25,392.09 L520.33,392.32 L521.41,392.54 L522.50,392.77 L523.58,393.00 L524.66,393.22 L525.74,393.45 L526.82,393.68 L527.90,393.90 L528.98,394.13 L530.06,394.35 L531.14,394.57 L532.22,394.80 L533.31,395.02 L534.39,395.25 L535.47,395.47 L536.55,395.70 L537.63,395.92 L538.71,396.15 L539.79,396.37 L540.87,396.60 L541.95,396.82 L543.04,397.05 L544.12,397.28 L545.20,397.51 L546.28,397.73 L547.36,397.96 L548.44,398.19" stroke="#abd6e8" stroke-width="11.3"/>
<path d="M102.49,198.64 L102.53,198.21 L102.58,197.80 L102.63,197.42 L102.68,197.05 L102.73,196.71 L102.78,196.37 L102.83,196.05 L102.88,195.74 L102.93,195.44 L102.97,195.15 L103.02,194.87 L103.07,194.59 L103.12,194.32 L103.17,194.06 L103.22,193.80 L103.27,193.55 L103.32,193.30 L103.37,193.06 L103.41,192.83 L103.46,192.60 L103.51,192.37 L103.56,192.15 L103.61,191.93 L103.66,191.71 L103.71,191.50 L103.76,191.29 L103.80,191.09 L103.85,190.88 L103.90,190.69 L103.95,190.49 L104.00,190.30 L104.05,190.11 L104.10,189.92 L104.15,189.73 L104.20,189.55 L104.24,189.37 L104.29,189.19 L104.34,189.02 L104.39,188.84 L104.44,188.67 L104.49,188.50 L104.54,188.34 L104.59,188.17 L104.64,188.01 L104.68,187.85 L104.73,187.69 L104.78,187.53 L104.83,187.38 L104.88,187.22 L104.93,187.07 L104.98,186.92 L105.03,186.77 L105.07,186.63 L105.12,186.48 L105.17,186.34 L105.22,186.20 L105.27,186.06 L105.32,185.92 L105.37,185.79 L105.42,185.65 L105.47,185.52 L105.51,185.39 L105.56,185.26 L105.61,185.13 L105.66,185.00 L105.71,184.88 L105.76,184.75 L105.81,184.63 L105.86,184.51 L105.91,184.39 L105.95,184.27 L106.00,184.15 L106.05,184.03 L106.10,183.92 L106.15,183.80 L106.20,183.69 L106.25,183.57 L106.30,183.46 L106.34,183.35 L106.39,183.24 L106.44,183.13 L106.49,183.02 L106.54,182.91 L106.59,182.81 L106.64,182.70 L106.69,182.60 L106.74,182.49 L106.78,182.39 L106.83,182.29 L106.88,182.18 L106.93,182.08 L106.98,181.98 L107.03,181.88 L107.08,181.78 L107.13,181.68 L107.18,181.59 L107.22,181.49 L107.27,181.39 L107.32,181.29 L107.37,181.20 L107.42,181.10 L107.47,181.01 L107.52,180.92 L107.57,180.82 L107.61,180.73 L107.66,180.64 L107.71,180.54 L107.76,180.45 L107.81,180.36 L107.86,180.27 L107.91,180.18 L107.96,180.09 L108.01,180.00 L108.05,179.91 L108.10,179.82 L108.15,179.73 L108.20,179.65 L108.25,179.56 L108.30,179.47 L108.35,179.38 L108.40,179.30 L108.44,179.21 L108.49,179.13 L108.54,179.04 L108.59,178.95 L108.64,178.87 L108.69,178.78 L108.74,178.70 L108.79,178.62 L108.84,178.53 L108.88,178.45 L108.93,178.36 L108.98,178.28 L109.03,178.20 L109.08,178.11 L109.13,178.03 L109.18,177.95 L109.23,177.86 L109.28,177.78 L109.32,177.70 L109.37,177.62 L109.42,177.54 L109.47,177.45 L109.52,177.37 L109.57,177.29 L109.62,177.21 L109.67,177.13 L109.71,177.05 L109.76,176.97 L109.81,176.89 L109.86,176.81 L109.91,176.73 L109.96,176.65 L110.01,176.57 L110.06,176.49 L110.11,176.41 L110.15,176.34 L110.20,176.26 L110.25,176.18 L110.30,176.10 L110.35,176.03 L110.40,175.95 L110.45,175.87 L110.50,175.80 L110.55,175.72 L110.59,175.64 L110.64,175.57 L110.69,175.49 L110.74,175.42 L110.79,175.34 L110.84,175.27 L110.89,175.19 L110.94,175.12 L110.98,175.05 L111.03,174.97 L111.08,174.90 L111.13,174.82 L111.18,174.75 L111.23,174.68 L111.28,174.61 L111.33,174.53 L111.38,174.46 L111.42,174.39 L111.47,174.32 L111.52,174.24 L111.57,174.17 L111.62,174.10 L111.67,174.03 L111.72,173.96 L111.77,173.89 L111.82,173.82 L111.86,173.75 L111.91,173.68 L111.96,173.61 L112.01,173.54 L112.06,173.47 L112.11,173.40 L112.16,173.33 L112.21,173.26 L112.25,173.19 L112.30,173.12 L112.35,173.05 L112.40,172.98 L112.45,172.91 L112.50,172.85 L112.55,172.78 L112.60,172.71 L112.65,172.64 L112.69,172.57 L112.74,172.51 L112.79,172.44 L112.84,172.37 L112.89,172.30 L112.94,172.24 L112.99,172.17 L113.04,172.10 L113.08,172.04 L113.13,171.97 L113.18,171.90 L113.23,171.84 L113.28,171.77 L113.33,171.71 L113.38,171.64 L113.43,171.57 L113.48,171.51 L113.52,171.44 L113.57,171.38 L113.62,171.31 L113.67,171.25 L113.72,171.18 L113.77,171.12 L113.82,171.05 L113.87,170.99 L113.92,170.92 L113.96,170.86 L114.01,170.80 L114.06,170.73 L114.11,170.67 L114.16,170.60 L114.21,170.54 L114.26,170.48 L114.31,170.41 L114.35,170.35 L114.40,170.29 L114.45,170.22 L114.50,170.16 L114.55,170.10 L114.60,170.03 L114.65,169.97 L114.70,169.91 L114.75,169.84 L114.79,169.78 L114.84,169.72 L114.89,169.66 L114.94,169.60 L114.99,169.53 L115.04,169.47 L115.09,169.41 L115.14,169.35 L115.19,169.29 L115.23,169.23 L115.28,169.17 L115.33,169.10 L115.38,169.04 L115.43,168.98 L115.48,168.92 L115.53,168.86 L115.58,168.80 L115.62,168.74 L115.67,168.68 L115.72,168.62 L115.77,168.56 L115.82,168.50 L115.87,168.44 L115.92,168.38 L115.97,168.32 L116.02,168.27 L116.06,168.21 L116.11,168.15 L116.16,168.09 L116.21,168.03 L116.26,167.97 L116.31,167.91 L116.36,167.85 L116.41,167.80 L116.46,167.74 L116.50,167.68 L116.55,167.62 L116.60,167.56 L116.65,167.51 L116.70,167.45 L116.75,167.39 L116.80,167.33 L116.85,167.28 L116.89,167.22 L116.94,167.16 L116.99,167.10 L117.04,167.05 L117.09,166.99 L118.17,165.75 L119.25,164.54 L120.33,163.34 L121.41,162.15 L122.50,160.96 L123.58,159.79 L124.66,158.63 L125.74,157.49 L126.82,156.38 L127.90,155.29 L128.98,154.24 L130.06,153.19 L131.14,152.16 L132.23,151.15 L133.31,150.17 L134.39,149.21 L135.47,148.29 L136.55,147.40 L137.63,146.54 L138.71,145.71 L139.79,144.90 L140.87,144.12 L141.95,143.35 L143.04,142.59 L144.12,141.85 L145.20,141.12 L146.28,140.40 L147.36,139.70 L148.44,139.00 L149.52,138.31 L150.60,137.63 L151.68,136.96 L152.77,136.30 L153.85,135.65 L154.93,135.01 L156.01,134.37 L157.09,133.74 L158.17,133.12 L159.25,132.51 L160.33,131.90 L161.41,131.29 L162.50,130.70 L163.58,130.10 L164.66,129.52 L165.74,128.93 L166.82,128.36 L167.90,127.78 L168.98,127.22 L170.06,126.65 L171.14,126.09 L172.23,125.53 L173.31,124.98 L174.39,124.43 L175.47,123.88 L176.55,123.34 L177.63,122.80 L178.71,122.26 L179.79,121.72 L180.87,121.19 L181.95,120.67 L183.04,120.15 L184.12,119.63 L185.20,119.11 L186.28,118.60 L187.36,118.09 L188.44,117.59 L189.52,117.09 L190.60,116.59 L191.68,116.09 L192.77,115.60 L193.85,115.11 L194.93,114.63 L196.01,114.14 L197.09,113.66 L198.17,113.18 L199.25,112.71 L200.33,112.24 L201.41,111.77 L202.50,111.30 L203.58,110.83 L204.66,110.37 L205.74,109.91 L206.82,109.45 L207.90,109.00 L208.98,108.54 L210.06,108.09 L211.14,107.64 L212.23,107.20 L213.31,106.75 L214.39,106.31 L215.47,105.87 L216.55,105.43 L217.63,104.99 L218.71,104.56 L219.79,104.12 L220.87,103.69 L221.95,103.26 L223.04,102.83 L224.12,102.41 L225.20,101.98 L226.28,101.56 L227.36,101.14 L228.44,100.72 L229.52,100.30 L230.60,99.88 L231.68,99.46 L232.77,99.05 L233.85,98.64 L234.93,98.22 L236.01,97.81 L237.09,97.41 L238.17,97.00 L239.25,96.59 L240.33,96.19 L241.41,95.78 L242.50,95.38 L243.58,94.98 L244.66,94.58 L245.74,94.18 L246.82,93.78 L247.90,93.38 L248.98,92.99 L250.06,92.59 L251.14,92.20 L252.23,91.80 L253.31,91.41 L254.39,91.02 L255.47,90.63 L256.55,90.24 L257.63,89.85 L258.71,89.46 L259.79,89.08 L260.87,88.69 L261.95,88.31 L263.04,87.92 L264.12,87.54 L265.20,87.16 L266.28,86.78 L267.36,86.40 L268.44,86.02 L269.52,85.64 L270.60,85.26 L271.68,84.89 L272.77,84.51 L273.85,84.14 L274.93,83.77 L276.01,83.39 L277.09,83.02 L278.17,82.66 L279.25,82.29 L280.33,81.92 L281.41,81.55 L282.50,81.19 L283.58,80.83 L284.66,80.46 L285.74,80.10 L286.82,79.74 L287.90,79.38 L288.98,79.02 L290.06,78.67 L291.14,78.31 L292.22,77.96 L293.31,77.61 L294.39,77.25 L295.47,76.90 L296.55,76.55 L297.63,76.21 L298.71,75.86 L299.79,75.51 L300.87,75.17 L301.95,74.82 L303.04,74.48 L304.12,74.14 L305.20,73.80 L306.28,73.46 L307.36,73.12 L308.44,72.79 L309.52,72.45 L310.60,72.12 L311.68,71.78 L312.77,71.45 L313.85,71.12 L314.93,70.79 L316.01,70.46 L317.09,70.13 L318.17,69.80 L319.25,69.48 L320.33,69.15 L321.41,68.82 L322.50,68.50 L323.58,68.18 L324.66,67.85 L325.74,67.53 L326.82,67.21 L327.90,66.89 L328.98,66.57 L330.06,66.26 L331.14,65.94 L332.22,65.62 L333.31,65.31 L334.39,64.99 L335.47,64.68 L336.55,64.36 L337.63,64.05 L338.71,63.74 L339.79,63.42 L340.87,63.11 L341.95,62.80 L343.04,62.49 L344.12,62.19 L345.20,61.88 L346.28,61.57 L347.36,61.26 L348.44,60.96 L349.52,60.65 L350.60,60.35 L351.68,60.04 L352.77,59.74 L353.85,59.44 L354.93,59.13 L356.01,58.83 L357.09,58.53 L358.17,58.23 L359.25,57.93 L360.33,57.63 L361.41,57.33 L362.50,57.03 L363.58,56.73 L364.66,56.43 L365.74,56.14 L366.82,55.84 L367.90,55.54 L368.98,55.25 L370.06,54.95 L371.14,54.66 L372.22,54.36 L373.31,54.07 L374.39,53.77 L375.47,53.48 L376.55,53.19 L377.63,52.89 L378.71,52.60 L379.79,52.31 L380.87,52.02 L381.95,51.73 L383.04,51.44 L384.12,51.15 L385.20,50.86 L386.28,50.57 L387.36,50.28 L388.44,49.99 L389.52,49.70 L390.60,49.41 L391.68,49.12 L392.77,48.84 L393.85,48.55 L394.93,48.26 L396.01,47.98 L397.09,47.69 L398.17,47.40 L399.25,47.12 L400.33,46.83 L401.41,46.55 L402.50,46.26 L403.58,45.98 L404.66,45.69 L405.74,45.40 L406.82,45.12 L407.90,44.83 L408.98,44.55 L410.06,44.27 L411.14,43.98 L412.22,43.70 L413.31,43.41 L414.39,43.13 L415.47,42.84 L416.55,42.56 L417.63,42.28 L418.71,41.99 L419.79,41.71 L420.87,41.43 L421.95,41.15 L423.04,40.86 L424.12,40.58 L425.20,40.30 L426.28,40.02 L427.36,39.74 L428.44,39.46 L429.52,39.18 L430.60,38.89 L431.68,38.61 L432.77,38.33 L433.85,38.06 L434.93,37.78 L436.01,37.50 L437.09,37.22 L438.17,36.94 L439.25,36.66 L440.33,36.39 L441.41,36.11 L442.50,35.83 L443.58,35.56 L444.66,35.28 L445.74,35.01 L446.82,34.73 L447.90,34.46 L448.98,34.18 L450.06,33.91 L451.14,33.63 L452.22,33.36 L453.31,33.09 L454.39,32.82 L455.47,32.55 L456.55,32.28 L457.63,32.00 L458.71,31.73 L459.79,31.47 L460.87,31.20 L461.95,30.93 L463.04,30.66 L464.12,30.39 L465.20,30.13 L466.28,29.86 L467.36,29.59 L468.44,29.33 L469.52,29.06 L470.60,28.80 L471.68,28.54 L472.77,28.27 L473.85,28.01 L474.93,27.75 L476.01,27.49 L477.09,27.23 L478.17,26.97 L479.25,26.71 L480.33,26.45 L481.41,26.19 L482.50,25.93 L483.58,25.68 L484.66,25.42 L485.74,25.16 L486.82,24.91 L487.90,24.66 L488.98,24.40 L490.06,24.15 L491.14,23.90 L492.22,23.65 L493.31,23.39 L494.39,23.14 L495.47,22.90 L496.55,22.65 L497.63,22.40 L498.71,22.15 L499.79,21.90 L500.87,21.66 L501.95,21.41 L503.04,21.17 L504.12,20.93 L505.20,20.68 L506.28,20.44 L507.36,20.20 L508.44,19.96 L509.52,19.72 L510.60,19.48 L511.68,19.24 L512.77,19.01 L513.85,18.77 L514.93,18.54 L516.01,18.31 L517.09,18.07 L518.17,17.84 L519.25,17.61 L520.33,17.38 L521.41,17.16 L522.50,16.93 L523.58,16.70 L524.66,16.48 L525.74,16.25 L526.82,16.02 L527.90,15.80 L528.98,15.57 L530.06,15.35 L531.14,15.13 L532.22,14.90 L533.31,14.68 L534.39,14.45 L535.47,14.23 L536.55,14.00 L537.63,13.78 L538.71,13.55 L539.79,13.33 L540.87,13.10 L541.95,12.88 L543.04,12.65 L544.12,12.42 L545.20,12.19 L546.28,11.97 L547.36,11.74 L548.44,11.51" stroke="#0c88d0" stroke-width="3.6"/>
<path d="M102.49,211.06 L102.53,211.49 L102.58,211.90 L102.63,212.28 L102.68,212.65 L102.73,212.99 L102.78,213.33 L102.83,213.65 L102.88,213.96 L102.93,214.26 L102.97,214.55 L103.02,214.83 L103.07,215.11 L103.12,215.38 L103.17,215.64 L103.22,215.90 L103.27,216.15 L103.32,216.40 L103.37,216.64 L103.41,216.87 L103.46,217.10 L103.51,217.33 L103.56,217.55 L103.61,217.77 L103.66,217.99 L103.71,218.20 L103.76,218.41 L103.80,218.61 L103.85,218.82 L103.90,219.01 L103.95,219.21 L104.00,219.40 L104.05,219.59 L104.10,219.78 L104.15,219.97 L104.20,220.15 L104.24,220.33 L104.29,220.51 L104.34,220.68 L104.39,220.86 L104.44,221.03 L104.49,221.20 L104.54,221.36 L104.59,221.53 L104.64,221.69 L104.68,221.85 L104.73,222.01 L104.78,222.17 L104.83,222.32 L104.88,222.48 L104.93,222.63 L104.98,222.78 L105.03,222.93 L105.07,223.07 L105.12,223.22 L105.17,223.36 L105.22,223.50 L105.27,223.64 L105.32,223.78 L105.37,223.91 L105.42,224.05 L105.47,224.18 L105.51,224.31 L105.56,224.44 L105.61,224.57 L105.66,224.70 L105.71,224.82 L105.76,224.95 L105.81,225.07 L105.86,225.19 L105.91,225.31 L105.95,225.43 L106.00,225.55 L106.05,225.67 L106.10,225.78 L106.15,225.90 L106.20,226.01 L106.25,226.13 L106.30,226.24 L106.34,226.35 L106.39,226.46 L106.44,226.57 L106.49,226.68 L106.54,226.79 L106.59,226.89 L106.64,227.00 L106.69,227.10 L106.74,227.21 L106.78,227.31 L106.83,227.41 L106.88,227.52 L106.93,227.62 L106.98,227.72 L107.03,227.82 L107.08,227.92 L107.13,228.02 L107.18,228.11 L107.22,228.21 L107.27,228.31 L107.32,228.41 L107.37,228.50 L107.42,228.60 L107.47,228.69 L107.52,228.78 L107.57,228.88 L107.61,228.97 L107.66,229.06 L107.71,229.16 L107.76,229.25 L107.81,229.34 L107.86,229.43 L107.91,229.52 L107.96,229.61 L108.01,229.70 L108.05,229.79 L108.10,229.88 L108.15,229.97 L108.20,230.05 L108.25,230.14 L108.30,230.23 L108.35,230.32 L108.40,230.40 L108.44,230.49 L108.49,230.57 L108.54,230.66 L108.59,230.75 L108.64,230.83 L108.69,230.92 L108.74,231.00 L108.79,231.08 L108.84,231.17 L108.88,231.25 L108.93,231.34 L108.98,231.42 L109.03,231.50 L109.08,231.59 L109.13,231.67 L109.18,231.75 L109.23,231.84 L109.28,231.92 L109.32,232.00 L109.37,232.08 L109.42,232.16 L109.47,232.25 L109.52,232.33 L109.57,232.41 L109.62,232.49 L109.67,232.57 L109.71,232.65 L109.76,232.73 L109.81,232.81 L109.86,232.89 L109.91,232.97 L109.96,233.05 L110.01,233.13 L110.06,233.21 L110.11,233.29 L110.15,233.36 L110.20,233.44 L110.25,233.52 L110.30,233.60 L110.35,233.67 L110.40,233.75 L110.45,233.83 L110.50,233.90 L110.55,233.98 L110.59,234.06 L110.64,234.13 L110.69,234.21 L110.74,234.28 L110.79,234.36 L110.84,234.43 L110.89,234.51 L110.94,234.58 L110.98,234.65 L111.03,234.73 L111.08,234.80 L111.13,234.88 L111.18,234.95 L111.23,235.02 L111.28,235.09 L111.33,235.17 L111.38,235.24 L111.42,235.31 L111.47,235.38 L111.52,235.46 L111.57,235.53 L111.62,235.60 L111.67,235.67 L111.72,235.74 L111.77,235.81 L111.82,235.88 L111.86,235.95 L111.91,236.02 L111.96,236.09 L112.01,236.16 L112.06,236.23 L112.11,236.30 L112.16,236.37 L112.21,236.44 L112.25,236.51 L112.30,236.58 L112.35,236.65 L112.40,236.72 L112.45,236.79 L112.50,236.85 L112.55,236.92 L112.60,236.99 L112.65,237.06 L112.69,237.13 L112.74,237.19 L112.79,237.26 L112.84,237.33 L112.89,237.40 L112.94,237.46 L112.99,237.53 L113.04,237.60 L113.08,237.66 L113.13,237.73 L113.18,237.80 L113.23,237.86 L113.28,237.93 L113.33,237.99 L113.38,238.06 L113.43,238.13 L113.48,238.19 L113.52,238.26 L113.57,238.32 L113.62,238.39 L113.67,238.45 L113.72,238.52 L113.77,238.58 L113.82,238.65 L113.87,238.71 L113.92,238.78 L113.96,238.84 L114.01,238.90 L114.06,238.97 L114.11,239.03 L114.16,239.10 L114.21,239.16 L114.26,239.22 L114.31,239.29 L114.35,239.35 L114.40,239.41 L114.45,239.48 L114.50,239.54 L114.55,239.60 L114.60,239.67 L114.65,239.73 L114.70,239.79 L114.75,239.86 L114.79,239.92 L114.84,239.98 L114.89,240.04 L114.94,240.10 L114.99,240.17 L115.04,240.23 L115.09,240.29 L115.14,240.35 L115.19,240.41 L115.23,240.47 L115.28,240.53 L115.33,240.60 L115.38,240.66 L115.43,240.72 L115.48,240.78 L115.53,240.84 L115.58,240.90 L115.62,240.96 L115.67,241.02 L115.72,241.08 L115.77,241.14 L115.82,241.20 L115.87,241.26 L115.92,241.32 L115.97,241.38 L116.02,241.43 L116.06,241.49 L116.11,241.55 L116.16,241.61 L116.21,241.67 L116.26,241.73 L116.31,241.79 L116.36,241.85 L116.41,241.90 L116.46,241.96 L116.50,242.02 L116.55,242.08 L116.60,242.14 L116.65,242.19 L116.70,242.25 L116.75,242.31 L116.80,242.37 L116.85,242.42 L116.89,242.48 L116.94,242.54 L116.99,242.60 L117.04,242.65 L117.09,242.71 L118.17,243.95 L119.25,245.16 L120.33,246.36 L121.41,247.55 L122.50,248.74 L123.58,249.91 L124.66,251.07 L125.74,252.21 L126.82,253.32 L127.90,254.41 L128.98,255.46 L130.06,256.51 L131.14,257.54 L132.23,258.55 L133.31,259.53 L134.39,260.49 L135.47,261.41 L136.55,262.30 L137.63,263.16 L138.71,263.99 L139.79,264.80 L140.87,265.58 L141.95,266.35 L143.04,267.11 L144.12,267.85 L145.20,268.58 L146.28,269.30 L147.36,270.00 L148.44,270.70 L149.52,271.39 L150.60,272.07 L151.68,272.74 L152.77,273.40 L153.85,274.05 L154.93,274.69 L156.01,275.33 L157.09,275.96 L158.17,276.58 L159.25,277.19 L160.33,277.80 L161.41,278.41 L162.50,279.00 L163.58,279.60 L164.66,280.18 L165.74,280.77 L166.82,281.34 L167.90,281.92 L168.98,282.48 L170.06,283.05 L171.14,283.61 L172.23,284.17 L173.31,284.72 L174.39,285.27 L175.47,285.82 L176.55,286.36 L177.63,286.90 L178.71,287.44 L179.79,287.98 L180.87,288.51 L181.95,289.03 L183.04,289.55 L184.12,290.07 L185.20,290.59 L186.28,291.10 L187.36,291.61 L188.44,292.11 L189.52,292.61 L190.60,293.11 L191.68,293.61 L192.77,294.10 L193.85,294.59 L194.93,295.07 L196.01,295.56 L197.09,296.04 L198.17,296.52 L199.25,296.99 L200.33,297.46 L201.41,297.93 L202.50,298.40 L203.58,298.87 L204.66,299.33 L205.74,299.79 L206.82,300.25 L207.90,300.70 L208.98,301.16 L210.06,301.61 L211.14,302.06 L212.23,302.50 L213.31,302.95 L214.39,303.39 L215.47,303.83 L216.55,304.27 L217.63,304.71 L218.71,305.14 L219.79,305.58 L220.87,306.01 L221.95,306.44 L223.04,306.87 L224.12,307.29 L225.20,307.72 L226.28,308.14 L227.36,308.56 L228.44,308.98 L229.52,309.40 L230.60,309.82 L231.68,310.24 L232.77,310.65 L233.85,311.06 L234.93,311.48 L236.01,311.89 L237.09,312.29 L238.17,312.70 L239.25,313.11 L240.33,313.51 L241.41,313.92 L242.50,314.32 L243.58,314.72 L244.66,315.12 L245.74,315.52 L246.82,315.92 L247.90,316.32 L248.98,316.71 L250.06,317.11 L251.14,317.50 L252.23,317.90 L253.31,318.29 L254.39,318.68 L255.47,319.07 L256.55,319.46 L257.63,319.85 L258.71,320.24 L259.79,320.62 L260.87,321.01 L261.95,321.39 L263.04,321.78 L264.12,322.16 L265.20,322.54 L266.28,322.92 L267.36,323.30 L268.44,323.68 L269.52,324.06 L270.60,324.44 L271.68,324.81 L272.77,325.19 L273.85,325.56 L274.93,325.93 L276.01,326.31 L277.09,326.68 L278.17,327.04 L279.25,327.41 L280.33,327.78 L281.41,328.15 L282.50,328.51 L283.58,328.87 L284.66,329.24 L285.74,329.60 L286.82,329.96 L287.90,330.32 L288.98,330.68 L290.06,331.03 L291.14,331.39 L292.22,331.74 L293.31,332.09 L294.39,332.45 L295.47,332.80 L296.55,333.15 L297.63,333.49 L298.71,333.84 L299.79,334.19 L300.87,334.53 L301.95,334.88 L303.04,335.22 L304.12,335.56 L305.20,335.90 L306.28,336.24 L307.36,336.58 L308.44,336.91 L309.52,337.25 L310.60,337.58 L311.68,337.92 L312.77,338.25 L313.85,338.58 L314.93,338.91 L316.01,339.24 L317.09,339.57 L318.17,339.90 L319.25,340.22 L320.33,340.55 L321.41,340.88 L322.50,341.20 L323.58,341.52 L324.66,341.85 L325.74,342.17 L326.82,342.49 L327.90,342.81 L328.98,343.13 L330.06,343.44 L331.14,343.76 L332.22,344.08 L333.31,344.39 L334.39,344.71 L335.47,345.02 L336.55,345.34 L337.63,345.65 L338.71,345.96 L339.79,346.28 L340.87,346.59 L341.95,346.90 L343.04,347.21 L344.12,347.51 L345.20,347.82 L346.28,348.13 L347.36,348.44 L348.44,348.74 L349.52,349.05 L350.60,349.35 L351.68,349.66 L352.77,349.96 L353.85,350.26 L354.93,350.57 L356.01,350.87 L357.09,351.17 L358.17,351.47 L359.25,351.77 L360.33,352.07 L361.41,352.37 L362.50,352.67 L363.58,352.97 L364.66,353.27 L365.74,353.56 L366.82,353.86 L367.90,354.16 L368.98,354.45 L370.06,354.75 L371.14,355.04 L372.22,355.34 L373.31,355.63 L374.39,355.93 L375.47,356.22 L376.55,356.51 L377.63,356.81 L378.71,357.10 L379.79,357.39 L380.87,357.68 L381.95,357.97 L383.04,358.26 L384.12,358.55 L385.20,358.84 L386.28,359.13 L387.36,359.42 L388.44,359.71 L389.52,360.00 L390.60,360.29 L391.68,360.58 L392.77,360.86 L393.85,361.15 L394.93,361.44 L396.01,361.72 L397.09,362.01 L398.17,362.30 L399.25,362.58 L400.33,362.87 L401.41,363.15 L402.50,363.44 L403.58,363.72 L404.66,364.01 L405.74,364.30 L406.82,364.58 L407.90,364.87 L408.98,365.15 L410.06,365.43 L411.14,365.72 L412.22,366.00 L413.31,366.29 L414.39,366.57 L415.47,366.86 L416.55,367.14 L417.63,367.42 L418.71,367.71 L419.79,367.99 L420.87,368.27 L421.95,368.55 L423.04,368.84 L424.12,369.12 L425.20,369.40 L426.28,369.68 L427.36,369.96 L428.44,370.24 L429.52,370.52 L430.60,370.81 L431.68,371.09 L432.77,371.37 L433.85,371.64 L434.93,371.92 L436.01,372.20 L437.09,372.48 L438.17,372.76 L439.25,373.04 L440.33,373.31 L441.41,373.59 L442.50,373.87 L443.58,374.14 L444.66,374.42 L445.74,374.69 L446.82,374.97 L447.90,375.24 L448.98,375.52 L450.06,375.79 L451.14,376.07 L452.22,376.34 L453.31,376.61 L454.39,376.88 L455.47,377.15 L456.55,377.42 L457.63,377.70 L458.71,377.97 L459.79,378.23 L460.87,378.50 L461.95,378.77 L463.04,379.04 L464.12,379.31 L465.20,379.57 L466.28,379.84 L467.36,380.11 L468.44,380.37 L469.52,380.64 L470.60,380.90 L471.68,381.16 L472.77,381.43 L473.85,381.69 L474.93,381.95 L476.01,382.21 L477.09,382.47 L478.17,382.73 L479.25,382.99 L480.33,383.25 L481.41,383.51 L482.50,383.77 L483.58,384.02 L484.66,384.28 L485.74,384.54 L486.82,384.79 L487.90,385.04 L488.98,385.30 L490.06,385.55 L491.14,385.80 L492.22,386.05 L493.31,386.31 L494.39,386.56 L495.47,386.80 L496.55,387.05 L497.63,387.30 L498.71,387.55 L499.79,387.80 L500.87,388.04 L501.95,388.29 L503.04,388.53 L504.12,388.77 L505.20,389.02 L506.28,389.26 L507.36,389.50 L508.44,389.74 L509.52,389.98 L510.60,390.22 L511.68,390.46 L512.77,390.69 L513.85,390.93 L514.93,391.16 L516.01,391.39 L517.09,391.63 L518.17,391.86 L519.25,392.09 L520.33,392.32 L521.41,392.54 L522.50,392.77 L523.58,393.00 L524.66,393.22 L525.74,393.45 L526.82,393.68 L527.90,393.90 L528.98,394.13 L530.06,394.35 L531.14,394.57 L532.22,394.80 L533.31,395.02 L534.39,395.25 L535.47,395.47 L536.55,395.70 L537.63,395.92 L538.71,396.15 L539.79,396.37 L540.87,396.60 L541.95,396.82 L543.04,397.05 L544.12,397.28 L545.20,397.51 L546.28,397.73 L547.36,397.96 L548.44,398.19" stroke="#0c88d0" stroke-width="3.6"/>
</g>
<text class="tk" x="102.15" y="433.2" text-anchor="middle">0</text>
<text class="tk" x="176.85" y="433.2" text-anchor="middle">10</text>
<text class="tk" x="251.55" y="433.2" text-anchor="middle">20</text>
<text class="tk" x="326.25" y="433.2" text-anchor="middle">30</text>
<text class="tk" x="400.95" y="433.2" text-anchor="middle">40</text>
<text class="tk" x="475.65" y="433.2" text-anchor="middle">50</text>
<text class="tk" x="94.6" y="371.79" text-anchor="end">-0.15</text>
<text class="tk" x="94.6" y="319.01" text-anchor="end">-0.1</text>
<text class="tk" x="94.6" y="266.23" text-anchor="end">-0.05</text>
<text class="tk" x="94.6" y="213.45" text-anchor="end">0</text>
<text class="tk" x="94.6" y="160.67" text-anchor="end">0.05</text>
<text class="tk" x="94.6" y="107.89" text-anchor="end">0.1</text>
<text class="tk" x="94.6" y="55.11" text-anchor="end">0.15</text>
<text class="sf" x="323.3" y="459.7" font-size="22.6" text-anchor="middle" textLength="113.9" lengthAdjust="spacingAndGlyphs">Time [min]</text>
<text class="sf" transform="translate(31.08,282.49) rotate(-90) scale(1.8824,1.7667)" font-size="20" font-style="normal">(</text>
<text class="sf" transform="translate(31.26,269.20) rotate(-90) scale(1.5319,1.4853)" font-size="20" font-style="italic">g</text>
<text class="sf" transform="translate(33.26,245.38) rotate(-90) scale(2.0753,1.6000)" font-size="20" font-style="normal">−</text>
<text class="sf" transform="translate(30.82,214.40) rotate(-90) scale(1.5106,1.5912)" font-size="20" font-style="italic">ĝ</text>
<text class="sf" transform="translate(31.08,201.91) rotate(-90) scale(1.8462,1.7667)" font-size="20" font-style="normal">)</text>
<text class="sf" transform="translate(33.46,179.11) rotate(-90) scale(1.2045,1.8667)" font-size="20" font-style="normal">[</text>
<text class="sf" transform="translate(30.48,171.00) rotate(-90) scale(1.7447,1.4328)" font-size="20" font-style="italic">μ</text>
<text class="sf" transform="translate(31.26,151.70) rotate(-90) scale(1.4255,1.4853)" font-size="20" font-style="italic">g</text>
<text class="sf" transform="translate(33.46,136.15) rotate(-90) scale(1.0667,1.8667)" font-size="20" font-style="normal">]</text>
<rect x="407.40" y="245.00" width="138.60" height="115.50" fill="#fff" stroke="#555" stroke-width="1"/>
<line x1="411.4" x2="450.6" y1="257.9" y2="257.9" stroke="#d4d4d4" stroke-width="1.2"/>
<line x1="411.4" x2="450.6" y1="280.7" y2="280.7" stroke="#505050" stroke-width="2.0"/>
<line x1="411.4" x2="450.6" y1="303.5" y2="303.5" stroke="#93a5d9" stroke-width="1"/>
<line x1="411.4" x2="450.6" y1="326.4" y2="326.4" stroke="#0c88d0" stroke-width="3.4"/>
<rect x="411.4" y="344.2" width="39.2" height="10.4" fill="#abd6e8"/>
<text class="sf" style="fill:#1a1a1a" stroke="#1a1a1a" stroke-width="0.2" x="453.6" y="262.5" font-size="19.5" textLength="82.3" lengthAdjust="spacingAndGlyphs">E, FL=12</text>
<text class="sf" style="fill:#1a1a1a" stroke="#1a1a1a" stroke-width="0.2" x="453.6" y="285.6" font-size="19.5" textLength="88.7" lengthAdjust="spacingAndGlyphs">3<tspan font-style="italic">σ</tspan>, FL=12</text>
<text class="sf" style="fill:#1a1a1a" stroke="#1a1a1a" stroke-width="0.2" x="453.6" y="308.6" font-size="19.5" textLength="82.3" lengthAdjust="spacingAndGlyphs">E, FL=16</text>
<text class="sf" style="fill:#1a1a1a" stroke="#1a1a1a" stroke-width="0.2" x="453.6" y="331.7" font-size="19.5" textLength="88.7" lengthAdjust="spacingAndGlyphs">3<tspan font-style="italic">σ</tspan>, FL=16</text>
<text class="sf" style="fill:#1a1a1a" stroke="#1a1a1a" stroke-width="0.2" x="453.6" y="353.5" font-size="19.5" textLength="58.7" lengthAdjust="spacingAndGlyphs">3<tspan font-style="italic">σ</tspan>, DP</text>
</svg></body></html>
